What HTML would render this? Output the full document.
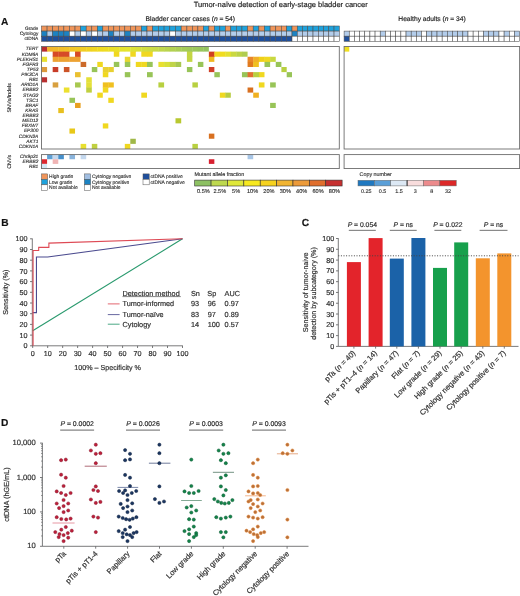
<!DOCTYPE html>
<html><head><meta charset="utf-8"><title>Tumor-naïve detection of early-stage bladder cancer</title>
<style>html,body{margin:0;padding:0;background:#fff;} svg{display:block;filter:blur(0.3px);} text{font-family:'Liberation Sans', Arial, sans-serif;text-rendering:geometricPrecision;stroke:#2a2a2a;stroke-width:0.18px;} text.sm{stroke-width:0.13px;}</style>
</head><body>
<svg width="520" height="596" viewBox="0 0 520 596">
<rect x="0" y="0" width="520" height="596" fill="#fff"/>
<text x="193.70" y="6.60" font-size="7.5" fill="#222">Tumor-naïve detection of early-stage bladder cancer</text>
<text x="1.00" y="24.90" font-size="10.2" font-weight="bold" fill="#111">A</text>
<text x="145.60" y="20.90" font-size="6.7" fill="#222">Bladder cancer cases (<tspan font-style="italic">n</tspan> = 54)</text>
<text x="398.30" y="20.90" font-size="6.7" fill="#222">Healthy adults (<tspan font-style="italic">n</tspan> = 34)</text>
<rect x="41.50" y="26.00" width="5.59" height="5.10" fill="#f0955a" stroke="#4d4d4d" stroke-width="0.55"/>
<rect x="41.50" y="31.10" width="5.59" height="5.10" fill="#1c82c2" stroke="#4d4d4d" stroke-width="0.55"/>
<rect x="41.50" y="36.20" width="5.59" height="5.10" fill="#1f4f9c" stroke="#4d4d4d" stroke-width="0.55"/>
<rect x="47.09" y="26.00" width="5.59" height="5.10" fill="#f0955a" stroke="#4d4d4d" stroke-width="0.55"/>
<rect x="47.09" y="31.10" width="5.59" height="5.10" fill="#b3cdeb" stroke="#4d4d4d" stroke-width="0.55"/>
<rect x="47.09" y="36.20" width="5.59" height="5.10" fill="#1f4f9c" stroke="#4d4d4d" stroke-width="0.55"/>
<rect x="52.68" y="26.00" width="5.59" height="5.10" fill="#f0955a" stroke="#4d4d4d" stroke-width="0.55"/>
<rect x="52.68" y="31.10" width="5.59" height="5.10" fill="#1c82c2" stroke="#4d4d4d" stroke-width="0.55"/>
<rect x="52.68" y="36.20" width="5.59" height="5.10" fill="#1f4f9c" stroke="#4d4d4d" stroke-width="0.55"/>
<rect x="58.27" y="26.00" width="5.59" height="5.10" fill="#f0955a" stroke="#4d4d4d" stroke-width="0.55"/>
<rect x="58.27" y="31.10" width="5.59" height="5.10" fill="#1c82c2" stroke="#4d4d4d" stroke-width="0.55"/>
<rect x="58.27" y="36.20" width="5.59" height="5.10" fill="#1f4f9c" stroke="#4d4d4d" stroke-width="0.55"/>
<rect x="63.86" y="26.00" width="5.59" height="5.10" fill="#f0955a" stroke="#4d4d4d" stroke-width="0.55"/>
<rect x="63.86" y="31.10" width="5.59" height="5.10" fill="#1c82c2" stroke="#4d4d4d" stroke-width="0.55"/>
<rect x="63.86" y="36.20" width="5.59" height="5.10" fill="#1f4f9c" stroke="#4d4d4d" stroke-width="0.55"/>
<rect x="69.44" y="26.00" width="5.59" height="5.10" fill="#f0955a" stroke="#4d4d4d" stroke-width="0.55"/>
<rect x="69.44" y="31.10" width="5.59" height="5.10" fill="#ffffff" stroke="#4d4d4d" stroke-width="0.55"/>
<rect x="69.44" y="36.20" width="5.59" height="5.10" fill="#1f4f9c" stroke="#4d4d4d" stroke-width="0.55"/>
<rect x="75.03" y="26.00" width="5.59" height="5.10" fill="#f0955a" stroke="#4d4d4d" stroke-width="0.55"/>
<rect x="75.03" y="31.10" width="5.59" height="5.10" fill="#b3cdeb" stroke="#4d4d4d" stroke-width="0.55"/>
<rect x="75.03" y="36.20" width="5.59" height="5.10" fill="#1f4f9c" stroke="#4d4d4d" stroke-width="0.55"/>
<rect x="80.62" y="26.00" width="5.59" height="5.10" fill="#1fa2dc" stroke="#4d4d4d" stroke-width="0.55"/>
<rect x="80.62" y="31.10" width="5.59" height="5.10" fill="#ffffff" stroke="#4d4d4d" stroke-width="0.55"/>
<rect x="80.62" y="36.20" width="5.59" height="5.10" fill="#1f4f9c" stroke="#4d4d4d" stroke-width="0.55"/>
<rect x="86.21" y="26.00" width="5.59" height="5.10" fill="#f0955a" stroke="#4d4d4d" stroke-width="0.55"/>
<rect x="86.21" y="31.10" width="5.59" height="5.10" fill="#b3cdeb" stroke="#4d4d4d" stroke-width="0.55"/>
<rect x="86.21" y="36.20" width="5.59" height="5.10" fill="#1f4f9c" stroke="#4d4d4d" stroke-width="0.55"/>
<rect x="91.80" y="26.00" width="5.50" height="5.10" fill="#f0955a" stroke="#4d4d4d" stroke-width="0.55"/>
<rect x="91.80" y="31.10" width="5.50" height="5.10" fill="#ffffff" stroke="#4d4d4d" stroke-width="0.55"/>
<rect x="91.80" y="36.20" width="5.50" height="5.10" fill="#1f4f9c" stroke="#4d4d4d" stroke-width="0.55"/>
<rect x="97.30" y="26.00" width="5.50" height="5.10" fill="#1fa2dc" stroke="#4d4d4d" stroke-width="0.55"/>
<rect x="97.30" y="31.10" width="5.50" height="5.10" fill="#b3cdeb" stroke="#4d4d4d" stroke-width="0.55"/>
<rect x="97.30" y="36.20" width="5.50" height="5.10" fill="#1f4f9c" stroke="#4d4d4d" stroke-width="0.55"/>
<rect x="102.80" y="26.00" width="5.50" height="5.10" fill="#f0955a" stroke="#4d4d4d" stroke-width="0.55"/>
<rect x="102.80" y="31.10" width="5.50" height="5.10" fill="#b3cdeb" stroke="#4d4d4d" stroke-width="0.55"/>
<rect x="102.80" y="36.20" width="5.50" height="5.10" fill="#1f4f9c" stroke="#4d4d4d" stroke-width="0.55"/>
<rect x="108.30" y="26.00" width="5.50" height="5.10" fill="#f0955a" stroke="#4d4d4d" stroke-width="0.55"/>
<rect x="108.30" y="31.10" width="5.50" height="5.10" fill="#1c82c2" stroke="#4d4d4d" stroke-width="0.55"/>
<rect x="108.30" y="36.20" width="5.50" height="5.10" fill="#1f4f9c" stroke="#4d4d4d" stroke-width="0.55"/>
<rect x="113.80" y="26.00" width="5.50" height="5.10" fill="#f0955a" stroke="#4d4d4d" stroke-width="0.55"/>
<rect x="113.80" y="31.10" width="5.50" height="5.10" fill="#b3cdeb" stroke="#4d4d4d" stroke-width="0.55"/>
<rect x="113.80" y="36.20" width="5.50" height="5.10" fill="#1f4f9c" stroke="#4d4d4d" stroke-width="0.55"/>
<rect x="119.30" y="26.00" width="5.50" height="5.10" fill="#f0955a" stroke="#4d4d4d" stroke-width="0.55"/>
<rect x="119.30" y="31.10" width="5.50" height="5.10" fill="#b3cdeb" stroke="#4d4d4d" stroke-width="0.55"/>
<rect x="119.30" y="36.20" width="5.50" height="5.10" fill="#1f4f9c" stroke="#4d4d4d" stroke-width="0.55"/>
<rect x="124.80" y="26.00" width="5.50" height="5.10" fill="#f0955a" stroke="#4d4d4d" stroke-width="0.55"/>
<rect x="124.80" y="31.10" width="5.50" height="5.10" fill="#1c82c2" stroke="#4d4d4d" stroke-width="0.55"/>
<rect x="124.80" y="36.20" width="5.50" height="5.10" fill="#1f4f9c" stroke="#4d4d4d" stroke-width="0.55"/>
<rect x="130.30" y="26.00" width="5.50" height="5.10" fill="#f0955a" stroke="#4d4d4d" stroke-width="0.55"/>
<rect x="130.30" y="31.10" width="5.50" height="5.10" fill="#b3cdeb" stroke="#4d4d4d" stroke-width="0.55"/>
<rect x="130.30" y="36.20" width="5.50" height="5.10" fill="#1f4f9c" stroke="#4d4d4d" stroke-width="0.55"/>
<rect x="135.80" y="26.00" width="5.50" height="5.10" fill="#f0955a" stroke="#4d4d4d" stroke-width="0.55"/>
<rect x="135.80" y="31.10" width="5.50" height="5.10" fill="#b3cdeb" stroke="#4d4d4d" stroke-width="0.55"/>
<rect x="135.80" y="36.20" width="5.50" height="5.10" fill="#1f4f9c" stroke="#4d4d4d" stroke-width="0.55"/>
<rect x="141.30" y="26.00" width="5.70" height="5.10" fill="#1fa2dc" stroke="#4d4d4d" stroke-width="0.55"/>
<rect x="141.30" y="31.10" width="5.70" height="5.10" fill="#b3cdeb" stroke="#4d4d4d" stroke-width="0.55"/>
<rect x="141.30" y="36.20" width="5.70" height="5.10" fill="#1f4f9c" stroke="#4d4d4d" stroke-width="0.55"/>
<rect x="147.00" y="26.00" width="5.70" height="5.10" fill="#f0955a" stroke="#4d4d4d" stroke-width="0.55"/>
<rect x="147.00" y="31.10" width="5.70" height="5.10" fill="#b3cdeb" stroke="#4d4d4d" stroke-width="0.55"/>
<rect x="147.00" y="36.20" width="5.70" height="5.10" fill="#1f4f9c" stroke="#4d4d4d" stroke-width="0.55"/>
<rect x="152.70" y="26.00" width="5.70" height="5.10" fill="#1fa2dc" stroke="#4d4d4d" stroke-width="0.55"/>
<rect x="152.70" y="31.10" width="5.70" height="5.10" fill="#b3cdeb" stroke="#4d4d4d" stroke-width="0.55"/>
<rect x="152.70" y="36.20" width="5.70" height="5.10" fill="#1f4f9c" stroke="#4d4d4d" stroke-width="0.55"/>
<rect x="158.40" y="26.00" width="5.70" height="5.10" fill="#1fa2dc" stroke="#4d4d4d" stroke-width="0.55"/>
<rect x="158.40" y="31.10" width="5.70" height="5.10" fill="#b3cdeb" stroke="#4d4d4d" stroke-width="0.55"/>
<rect x="158.40" y="36.20" width="5.70" height="5.10" fill="#1f4f9c" stroke="#4d4d4d" stroke-width="0.55"/>
<rect x="164.10" y="26.00" width="5.70" height="5.10" fill="#1fa2dc" stroke="#4d4d4d" stroke-width="0.55"/>
<rect x="164.10" y="31.10" width="5.70" height="5.10" fill="#b3cdeb" stroke="#4d4d4d" stroke-width="0.55"/>
<rect x="164.10" y="36.20" width="5.70" height="5.10" fill="#1f4f9c" stroke="#4d4d4d" stroke-width="0.55"/>
<rect x="169.80" y="26.00" width="5.70" height="5.10" fill="#1fa2dc" stroke="#4d4d4d" stroke-width="0.55"/>
<rect x="169.80" y="31.10" width="5.70" height="5.10" fill="#ffffff" stroke="#4d4d4d" stroke-width="0.55"/>
<rect x="169.80" y="36.20" width="5.70" height="5.10" fill="#1f4f9c" stroke="#4d4d4d" stroke-width="0.55"/>
<rect x="175.50" y="26.00" width="5.70" height="5.10" fill="#1fa2dc" stroke="#4d4d4d" stroke-width="0.55"/>
<rect x="175.50" y="31.10" width="5.70" height="5.10" fill="#b3cdeb" stroke="#4d4d4d" stroke-width="0.55"/>
<rect x="175.50" y="36.20" width="5.70" height="5.10" fill="#1f4f9c" stroke="#4d4d4d" stroke-width="0.55"/>
<rect x="181.20" y="26.00" width="5.70" height="5.10" fill="#f0955a" stroke="#4d4d4d" stroke-width="0.55"/>
<rect x="181.20" y="31.10" width="5.70" height="5.10" fill="#b3cdeb" stroke="#4d4d4d" stroke-width="0.55"/>
<rect x="181.20" y="36.20" width="5.70" height="5.10" fill="#1f4f9c" stroke="#4d4d4d" stroke-width="0.55"/>
<rect x="186.90" y="26.00" width="5.49" height="5.10" fill="#f0955a" stroke="#4d4d4d" stroke-width="0.55"/>
<rect x="186.90" y="31.10" width="5.49" height="5.10" fill="#b3cdeb" stroke="#4d4d4d" stroke-width="0.55"/>
<rect x="186.90" y="36.20" width="5.49" height="5.10" fill="#1f4f9c" stroke="#4d4d4d" stroke-width="0.55"/>
<rect x="192.39" y="26.00" width="5.49" height="5.10" fill="#f0955a" stroke="#4d4d4d" stroke-width="0.55"/>
<rect x="192.39" y="31.10" width="5.49" height="5.10" fill="#b3cdeb" stroke="#4d4d4d" stroke-width="0.55"/>
<rect x="192.39" y="36.20" width="5.49" height="5.10" fill="#1f4f9c" stroke="#4d4d4d" stroke-width="0.55"/>
<rect x="197.88" y="26.00" width="5.49" height="5.10" fill="#f0955a" stroke="#4d4d4d" stroke-width="0.55"/>
<rect x="197.88" y="31.10" width="5.49" height="5.10" fill="#b3cdeb" stroke="#4d4d4d" stroke-width="0.55"/>
<rect x="197.88" y="36.20" width="5.49" height="5.10" fill="#1f4f9c" stroke="#4d4d4d" stroke-width="0.55"/>
<rect x="203.37" y="26.00" width="5.49" height="5.10" fill="#1fa2dc" stroke="#4d4d4d" stroke-width="0.55"/>
<rect x="203.37" y="31.10" width="5.49" height="5.10" fill="#b3cdeb" stroke="#4d4d4d" stroke-width="0.55"/>
<rect x="203.37" y="36.20" width="5.49" height="5.10" fill="#1f4f9c" stroke="#4d4d4d" stroke-width="0.55"/>
<rect x="208.86" y="26.00" width="5.49" height="5.10" fill="#f0955a" stroke="#4d4d4d" stroke-width="0.55"/>
<rect x="208.86" y="31.10" width="5.49" height="5.10" fill="#b3cdeb" stroke="#4d4d4d" stroke-width="0.55"/>
<rect x="208.86" y="36.20" width="5.49" height="5.10" fill="#1f4f9c" stroke="#4d4d4d" stroke-width="0.55"/>
<rect x="214.34" y="26.00" width="5.49" height="5.10" fill="#1fa2dc" stroke="#4d4d4d" stroke-width="0.55"/>
<rect x="214.34" y="31.10" width="5.49" height="5.10" fill="#b3cdeb" stroke="#4d4d4d" stroke-width="0.55"/>
<rect x="214.34" y="36.20" width="5.49" height="5.10" fill="#1f4f9c" stroke="#4d4d4d" stroke-width="0.55"/>
<rect x="219.83" y="26.00" width="5.49" height="5.10" fill="#1fa2dc" stroke="#4d4d4d" stroke-width="0.55"/>
<rect x="219.83" y="31.10" width="5.49" height="5.10" fill="#b3cdeb" stroke="#4d4d4d" stroke-width="0.55"/>
<rect x="219.83" y="36.20" width="5.49" height="5.10" fill="#1f4f9c" stroke="#4d4d4d" stroke-width="0.55"/>
<rect x="225.32" y="26.00" width="5.49" height="5.10" fill="#f0955a" stroke="#4d4d4d" stroke-width="0.55"/>
<rect x="225.32" y="31.10" width="5.49" height="5.10" fill="#b3cdeb" stroke="#4d4d4d" stroke-width="0.55"/>
<rect x="225.32" y="36.20" width="5.49" height="5.10" fill="#1f4f9c" stroke="#4d4d4d" stroke-width="0.55"/>
<rect x="230.81" y="26.00" width="5.49" height="5.10" fill="#1fa2dc" stroke="#4d4d4d" stroke-width="0.55"/>
<rect x="230.81" y="31.10" width="5.49" height="5.10" fill="#b3cdeb" stroke="#4d4d4d" stroke-width="0.55"/>
<rect x="230.81" y="36.20" width="5.49" height="5.10" fill="#1f4f9c" stroke="#4d4d4d" stroke-width="0.55"/>
<rect x="236.30" y="26.00" width="5.64" height="5.10" fill="#1fa2dc" stroke="#4d4d4d" stroke-width="0.55"/>
<rect x="236.30" y="31.10" width="5.64" height="5.10" fill="#b3cdeb" stroke="#4d4d4d" stroke-width="0.55"/>
<rect x="236.30" y="36.20" width="5.64" height="5.10" fill="#1f4f9c" stroke="#4d4d4d" stroke-width="0.55"/>
<rect x="241.94" y="26.00" width="5.64" height="5.10" fill="#1fa2dc" stroke="#4d4d4d" stroke-width="0.55"/>
<rect x="241.94" y="31.10" width="5.64" height="5.10" fill="#b3cdeb" stroke="#4d4d4d" stroke-width="0.55"/>
<rect x="241.94" y="36.20" width="5.64" height="5.10" fill="#1f4f9c" stroke="#4d4d4d" stroke-width="0.55"/>
<rect x="247.57" y="26.00" width="5.64" height="5.10" fill="#f0955a" stroke="#4d4d4d" stroke-width="0.55"/>
<rect x="247.57" y="31.10" width="5.64" height="5.10" fill="#b3cdeb" stroke="#4d4d4d" stroke-width="0.55"/>
<rect x="247.57" y="36.20" width="5.64" height="5.10" fill="#1f4f9c" stroke="#4d4d4d" stroke-width="0.55"/>
<rect x="253.21" y="26.00" width="5.64" height="5.10" fill="#1fa2dc" stroke="#4d4d4d" stroke-width="0.55"/>
<rect x="253.21" y="31.10" width="5.64" height="5.10" fill="#b3cdeb" stroke="#4d4d4d" stroke-width="0.55"/>
<rect x="253.21" y="36.20" width="5.64" height="5.10" fill="#1f4f9c" stroke="#4d4d4d" stroke-width="0.55"/>
<rect x="258.85" y="26.00" width="5.64" height="5.10" fill="#f0955a" stroke="#4d4d4d" stroke-width="0.55"/>
<rect x="258.85" y="31.10" width="5.64" height="5.10" fill="#b3cdeb" stroke="#4d4d4d" stroke-width="0.55"/>
<rect x="258.85" y="36.20" width="5.64" height="5.10" fill="#1f4f9c" stroke="#4d4d4d" stroke-width="0.55"/>
<rect x="264.49" y="26.00" width="5.64" height="5.10" fill="#1fa2dc" stroke="#4d4d4d" stroke-width="0.55"/>
<rect x="264.49" y="31.10" width="5.64" height="5.10" fill="#b3cdeb" stroke="#4d4d4d" stroke-width="0.55"/>
<rect x="264.49" y="36.20" width="5.64" height="5.10" fill="#1f4f9c" stroke="#4d4d4d" stroke-width="0.55"/>
<rect x="270.12" y="26.00" width="5.64" height="5.10" fill="#f0955a" stroke="#4d4d4d" stroke-width="0.55"/>
<rect x="270.12" y="31.10" width="5.64" height="5.10" fill="#b3cdeb" stroke="#4d4d4d" stroke-width="0.55"/>
<rect x="270.12" y="36.20" width="5.64" height="5.10" fill="#1f4f9c" stroke="#4d4d4d" stroke-width="0.55"/>
<rect x="275.76" y="26.00" width="5.64" height="5.10" fill="#f0955a" stroke="#4d4d4d" stroke-width="0.55"/>
<rect x="275.76" y="31.10" width="5.64" height="5.10" fill="#b3cdeb" stroke="#4d4d4d" stroke-width="0.55"/>
<rect x="275.76" y="36.20" width="5.64" height="5.10" fill="#1f4f9c" stroke="#4d4d4d" stroke-width="0.55"/>
<rect x="281.40" y="26.00" width="5.30" height="5.10" fill="#f0955a" stroke="#4d4d4d" stroke-width="0.55"/>
<rect x="281.40" y="31.10" width="5.30" height="5.10" fill="#b3cdeb" stroke="#4d4d4d" stroke-width="0.55"/>
<rect x="281.40" y="36.20" width="5.30" height="5.10" fill="#1f4f9c" stroke="#4d4d4d" stroke-width="0.55"/>
<rect x="286.70" y="26.00" width="5.30" height="5.10" fill="#1fa2dc" stroke="#4d4d4d" stroke-width="0.55"/>
<rect x="286.70" y="31.10" width="5.30" height="5.10" fill="#b3cdeb" stroke="#4d4d4d" stroke-width="0.55"/>
<rect x="286.70" y="36.20" width="5.30" height="5.10" fill="#1f4f9c" stroke="#4d4d4d" stroke-width="0.55"/>
<rect x="292.00" y="26.00" width="5.26" height="5.10" fill="#f0955a" stroke="#4d4d4d" stroke-width="0.55"/>
<rect x="292.00" y="31.10" width="5.26" height="5.10" fill="#1c82c2" stroke="#4d4d4d" stroke-width="0.55"/>
<rect x="292.00" y="36.20" width="5.26" height="5.10" fill="#ffffff" stroke="#4d4d4d" stroke-width="0.55"/>
<rect x="297.26" y="26.00" width="5.26" height="5.10" fill="#1fa2dc" stroke="#4d4d4d" stroke-width="0.55"/>
<rect x="297.26" y="31.10" width="5.26" height="5.10" fill="#b3cdeb" stroke="#4d4d4d" stroke-width="0.55"/>
<rect x="297.26" y="36.20" width="5.26" height="5.10" fill="#ffffff" stroke="#4d4d4d" stroke-width="0.55"/>
<rect x="302.51" y="26.00" width="5.26" height="5.10" fill="#1fa2dc" stroke="#4d4d4d" stroke-width="0.55"/>
<rect x="302.51" y="31.10" width="5.26" height="5.10" fill="#b3cdeb" stroke="#4d4d4d" stroke-width="0.55"/>
<rect x="302.51" y="36.20" width="5.26" height="5.10" fill="#ffffff" stroke="#4d4d4d" stroke-width="0.55"/>
<rect x="307.77" y="26.00" width="5.26" height="5.10" fill="#1fa2dc" stroke="#4d4d4d" stroke-width="0.55"/>
<rect x="307.77" y="31.10" width="5.26" height="5.10" fill="#b3cdeb" stroke="#4d4d4d" stroke-width="0.55"/>
<rect x="307.77" y="36.20" width="5.26" height="5.10" fill="#ffffff" stroke="#4d4d4d" stroke-width="0.55"/>
<rect x="313.02" y="26.00" width="5.26" height="5.10" fill="#1fa2dc" stroke="#4d4d4d" stroke-width="0.55"/>
<rect x="313.02" y="31.10" width="5.26" height="5.10" fill="#b3cdeb" stroke="#4d4d4d" stroke-width="0.55"/>
<rect x="313.02" y="36.20" width="5.26" height="5.10" fill="#ffffff" stroke="#4d4d4d" stroke-width="0.55"/>
<rect x="318.28" y="26.00" width="5.26" height="5.10" fill="#1fa2dc" stroke="#4d4d4d" stroke-width="0.55"/>
<rect x="318.28" y="31.10" width="5.26" height="5.10" fill="#b3cdeb" stroke="#4d4d4d" stroke-width="0.55"/>
<rect x="318.28" y="36.20" width="5.26" height="5.10" fill="#ffffff" stroke="#4d4d4d" stroke-width="0.55"/>
<rect x="323.53" y="26.00" width="5.26" height="5.10" fill="#1fa2dc" stroke="#4d4d4d" stroke-width="0.55"/>
<rect x="323.53" y="31.10" width="5.26" height="5.10" fill="#b3cdeb" stroke="#4d4d4d" stroke-width="0.55"/>
<rect x="323.53" y="36.20" width="5.26" height="5.10" fill="#ffffff" stroke="#4d4d4d" stroke-width="0.55"/>
<rect x="328.79" y="26.00" width="5.26" height="5.10" fill="#1fa2dc" stroke="#4d4d4d" stroke-width="0.55"/>
<rect x="328.79" y="31.10" width="5.26" height="5.10" fill="#b3cdeb" stroke="#4d4d4d" stroke-width="0.55"/>
<rect x="328.79" y="36.20" width="5.26" height="5.10" fill="#ffffff" stroke="#4d4d4d" stroke-width="0.55"/>
<rect x="334.04" y="26.00" width="5.26" height="5.10" fill="#1fa2dc" stroke="#4d4d4d" stroke-width="0.55"/>
<rect x="334.04" y="31.10" width="5.26" height="5.10" fill="#b3cdeb" stroke="#4d4d4d" stroke-width="0.55"/>
<rect x="334.04" y="36.20" width="5.26" height="5.10" fill="#ffffff" stroke="#4d4d4d" stroke-width="0.55"/>
<rect x="344.10" y="31.10" width="5.16" height="5.10" fill="#b3cdeb" stroke="#4d4d4d" stroke-width="0.55"/>
<rect x="344.10" y="36.20" width="5.16" height="5.10" fill="#1f4f9c" stroke="#4d4d4d" stroke-width="0.55"/>
<rect x="349.26" y="31.10" width="5.16" height="5.10" fill="#ffffff" stroke="#4d4d4d" stroke-width="0.55"/>
<rect x="349.26" y="36.20" width="5.16" height="5.10" fill="#ffffff" stroke="#4d4d4d" stroke-width="0.55"/>
<rect x="354.42" y="31.10" width="5.16" height="5.10" fill="#ffffff" stroke="#4d4d4d" stroke-width="0.55"/>
<rect x="354.42" y="36.20" width="5.16" height="5.10" fill="#ffffff" stroke="#4d4d4d" stroke-width="0.55"/>
<rect x="359.59" y="31.10" width="5.16" height="5.10" fill="#ffffff" stroke="#4d4d4d" stroke-width="0.55"/>
<rect x="359.59" y="36.20" width="5.16" height="5.10" fill="#ffffff" stroke="#4d4d4d" stroke-width="0.55"/>
<rect x="364.75" y="31.10" width="5.16" height="5.10" fill="#ffffff" stroke="#4d4d4d" stroke-width="0.55"/>
<rect x="364.75" y="36.20" width="5.16" height="5.10" fill="#ffffff" stroke="#4d4d4d" stroke-width="0.55"/>
<rect x="369.91" y="31.10" width="5.16" height="5.10" fill="#ffffff" stroke="#4d4d4d" stroke-width="0.55"/>
<rect x="369.91" y="36.20" width="5.16" height="5.10" fill="#ffffff" stroke="#4d4d4d" stroke-width="0.55"/>
<rect x="375.07" y="31.10" width="5.16" height="5.10" fill="#ffffff" stroke="#4d4d4d" stroke-width="0.55"/>
<rect x="375.07" y="36.20" width="5.16" height="5.10" fill="#ffffff" stroke="#4d4d4d" stroke-width="0.55"/>
<rect x="380.23" y="31.10" width="5.16" height="5.10" fill="#b3cdeb" stroke="#4d4d4d" stroke-width="0.55"/>
<rect x="380.23" y="36.20" width="5.16" height="5.10" fill="#ffffff" stroke="#4d4d4d" stroke-width="0.55"/>
<rect x="385.40" y="31.10" width="5.16" height="5.10" fill="#ffffff" stroke="#4d4d4d" stroke-width="0.55"/>
<rect x="385.40" y="36.20" width="5.16" height="5.10" fill="#ffffff" stroke="#4d4d4d" stroke-width="0.55"/>
<rect x="390.56" y="31.10" width="5.16" height="5.10" fill="#ffffff" stroke="#4d4d4d" stroke-width="0.55"/>
<rect x="390.56" y="36.20" width="5.16" height="5.10" fill="#ffffff" stroke="#4d4d4d" stroke-width="0.55"/>
<rect x="395.72" y="31.10" width="5.16" height="5.10" fill="#ffffff" stroke="#4d4d4d" stroke-width="0.55"/>
<rect x="395.72" y="36.20" width="5.16" height="5.10" fill="#ffffff" stroke="#4d4d4d" stroke-width="0.55"/>
<rect x="400.88" y="31.10" width="5.16" height="5.10" fill="#ffffff" stroke="#4d4d4d" stroke-width="0.55"/>
<rect x="400.88" y="36.20" width="5.16" height="5.10" fill="#ffffff" stroke="#4d4d4d" stroke-width="0.55"/>
<rect x="406.04" y="31.10" width="5.16" height="5.10" fill="#b3cdeb" stroke="#4d4d4d" stroke-width="0.55"/>
<rect x="406.04" y="36.20" width="5.16" height="5.10" fill="#ffffff" stroke="#4d4d4d" stroke-width="0.55"/>
<rect x="411.21" y="31.10" width="5.16" height="5.10" fill="#b3cdeb" stroke="#4d4d4d" stroke-width="0.55"/>
<rect x="411.21" y="36.20" width="5.16" height="5.10" fill="#ffffff" stroke="#4d4d4d" stroke-width="0.55"/>
<rect x="416.37" y="31.10" width="5.16" height="5.10" fill="#b3cdeb" stroke="#4d4d4d" stroke-width="0.55"/>
<rect x="416.37" y="36.20" width="5.16" height="5.10" fill="#ffffff" stroke="#4d4d4d" stroke-width="0.55"/>
<rect x="421.53" y="31.10" width="5.16" height="5.10" fill="#ffffff" stroke="#4d4d4d" stroke-width="0.55"/>
<rect x="421.53" y="36.20" width="5.16" height="5.10" fill="#ffffff" stroke="#4d4d4d" stroke-width="0.55"/>
<rect x="426.69" y="31.10" width="5.16" height="5.10" fill="#b3cdeb" stroke="#4d4d4d" stroke-width="0.55"/>
<rect x="426.69" y="36.20" width="5.16" height="5.10" fill="#ffffff" stroke="#4d4d4d" stroke-width="0.55"/>
<rect x="431.85" y="31.10" width="5.16" height="5.10" fill="#b3cdeb" stroke="#4d4d4d" stroke-width="0.55"/>
<rect x="431.85" y="36.20" width="5.16" height="5.10" fill="#ffffff" stroke="#4d4d4d" stroke-width="0.55"/>
<rect x="437.02" y="31.10" width="5.16" height="5.10" fill="#b3cdeb" stroke="#4d4d4d" stroke-width="0.55"/>
<rect x="437.02" y="36.20" width="5.16" height="5.10" fill="#ffffff" stroke="#4d4d4d" stroke-width="0.55"/>
<rect x="442.18" y="31.10" width="5.16" height="5.10" fill="#b3cdeb" stroke="#4d4d4d" stroke-width="0.55"/>
<rect x="442.18" y="36.20" width="5.16" height="5.10" fill="#ffffff" stroke="#4d4d4d" stroke-width="0.55"/>
<rect x="447.34" y="31.10" width="5.16" height="5.10" fill="#b3cdeb" stroke="#4d4d4d" stroke-width="0.55"/>
<rect x="447.34" y="36.20" width="5.16" height="5.10" fill="#ffffff" stroke="#4d4d4d" stroke-width="0.55"/>
<rect x="452.50" y="31.10" width="5.16" height="5.10" fill="#b3cdeb" stroke="#4d4d4d" stroke-width="0.55"/>
<rect x="452.50" y="36.20" width="5.16" height="5.10" fill="#ffffff" stroke="#4d4d4d" stroke-width="0.55"/>
<rect x="457.66" y="31.10" width="5.16" height="5.10" fill="#b3cdeb" stroke="#4d4d4d" stroke-width="0.55"/>
<rect x="457.66" y="36.20" width="5.16" height="5.10" fill="#ffffff" stroke="#4d4d4d" stroke-width="0.55"/>
<rect x="462.83" y="31.10" width="5.16" height="5.10" fill="#b3cdeb" stroke="#4d4d4d" stroke-width="0.55"/>
<rect x="462.83" y="36.20" width="5.16" height="5.10" fill="#ffffff" stroke="#4d4d4d" stroke-width="0.55"/>
<rect x="467.99" y="31.10" width="5.16" height="5.10" fill="#ffffff" stroke="#4d4d4d" stroke-width="0.55"/>
<rect x="467.99" y="36.20" width="5.16" height="5.10" fill="#ffffff" stroke="#4d4d4d" stroke-width="0.55"/>
<rect x="473.15" y="31.10" width="5.16" height="5.10" fill="#ffffff" stroke="#4d4d4d" stroke-width="0.55"/>
<rect x="473.15" y="36.20" width="5.16" height="5.10" fill="#ffffff" stroke="#4d4d4d" stroke-width="0.55"/>
<rect x="478.31" y="31.10" width="5.16" height="5.10" fill="#ffffff" stroke="#4d4d4d" stroke-width="0.55"/>
<rect x="478.31" y="36.20" width="5.16" height="5.10" fill="#ffffff" stroke="#4d4d4d" stroke-width="0.55"/>
<rect x="483.47" y="31.10" width="5.16" height="5.10" fill="#b3cdeb" stroke="#4d4d4d" stroke-width="0.55"/>
<rect x="483.47" y="36.20" width="5.16" height="5.10" fill="#ffffff" stroke="#4d4d4d" stroke-width="0.55"/>
<rect x="488.64" y="31.10" width="5.16" height="5.10" fill="#b3cdeb" stroke="#4d4d4d" stroke-width="0.55"/>
<rect x="488.64" y="36.20" width="5.16" height="5.10" fill="#ffffff" stroke="#4d4d4d" stroke-width="0.55"/>
<rect x="493.80" y="31.10" width="5.16" height="5.10" fill="#b3cdeb" stroke="#4d4d4d" stroke-width="0.55"/>
<rect x="493.80" y="36.20" width="5.16" height="5.10" fill="#ffffff" stroke="#4d4d4d" stroke-width="0.55"/>
<rect x="498.96" y="31.10" width="5.16" height="5.10" fill="#ffffff" stroke="#4d4d4d" stroke-width="0.55"/>
<rect x="498.96" y="36.20" width="5.16" height="5.10" fill="#ffffff" stroke="#4d4d4d" stroke-width="0.55"/>
<rect x="504.12" y="31.10" width="5.16" height="5.10" fill="#b3cdeb" stroke="#4d4d4d" stroke-width="0.55"/>
<rect x="504.12" y="36.20" width="5.16" height="5.10" fill="#ffffff" stroke="#4d4d4d" stroke-width="0.55"/>
<rect x="509.28" y="31.10" width="5.16" height="5.10" fill="#ffffff" stroke="#4d4d4d" stroke-width="0.55"/>
<rect x="509.28" y="36.20" width="5.16" height="5.10" fill="#ffffff" stroke="#4d4d4d" stroke-width="0.55"/>
<rect x="514.45" y="31.10" width="5.16" height="5.10" fill="#b3cdeb" stroke="#4d4d4d" stroke-width="0.55"/>
<rect x="514.45" y="36.20" width="5.16" height="5.10" fill="#ffffff" stroke="#4d4d4d" stroke-width="0.55"/>
<text x="38.30" y="30.00" font-size="4.8" text-anchor="end" fill="#333" class="sm">Grade</text>
<text x="38.30" y="35.10" font-size="4.8" text-anchor="end" fill="#333" class="sm">Cytology</text>
<text x="38.30" y="40.20" font-size="4.8" text-anchor="end" fill="#333" class="sm">ctDNA</text>
<rect x="41.50" y="46.50" width="5.94" height="5.12" fill="#b82e2e"/>
<rect x="47.09" y="46.50" width="5.94" height="5.12" fill="#f3b52c"/>
<rect x="52.68" y="46.50" width="5.94" height="5.47" fill="#f3b92a"/>
<rect x="58.27" y="46.50" width="5.94" height="5.47" fill="#f3bd29"/>
<rect x="63.86" y="46.50" width="5.94" height="5.47" fill="#f3c128"/>
<rect x="69.44" y="46.50" width="5.94" height="5.12" fill="#f3c526"/>
<rect x="75.03" y="46.50" width="5.94" height="5.47" fill="#f2c925"/>
<rect x="80.62" y="46.50" width="5.94" height="5.12" fill="#f2cd24"/>
<rect x="86.21" y="46.50" width="5.94" height="5.12" fill="#f1d222"/>
<rect x="91.80" y="46.50" width="5.85" height="5.12" fill="#f1d621"/>
<rect x="97.30" y="46.50" width="5.85" height="5.12" fill="#f0da20"/>
<rect x="102.80" y="46.50" width="5.85" height="5.12" fill="#eedc23"/>
<rect x="108.30" y="46.50" width="5.85" height="5.12" fill="#ebde26"/>
<rect x="113.80" y="46.50" width="5.85" height="5.47" fill="#e9e02a"/>
<rect x="119.30" y="46.50" width="5.85" height="5.12" fill="#e6e22d"/>
<rect x="124.80" y="46.50" width="5.85" height="5.12" fill="#e4e430"/>
<rect x="130.30" y="46.50" width="5.85" height="5.47" fill="#dee235"/>
<rect x="135.80" y="46.50" width="5.85" height="5.12" fill="#d9e03a"/>
<rect x="141.30" y="46.50" width="6.05" height="5.47" fill="#d3de3e"/>
<rect x="147.00" y="46.50" width="6.05" height="5.47" fill="#cedc43"/>
<rect x="152.70" y="46.50" width="6.05" height="5.12" fill="#c8da48"/>
<rect x="158.40" y="46.50" width="6.05" height="5.12" fill="#c1d74b"/>
<rect x="164.10" y="46.50" width="6.05" height="5.12" fill="#bad44e"/>
<rect x="169.80" y="46.50" width="6.05" height="5.12" fill="#b3d152"/>
<rect x="175.50" y="46.50" width="6.05" height="5.12" fill="#acce55"/>
<rect x="181.20" y="46.50" width="6.05" height="5.12" fill="#a5cb58"/>
<rect x="186.90" y="46.50" width="5.84" height="5.47" fill="#a1c95a"/>
<rect x="192.39" y="46.50" width="5.84" height="5.12" fill="#9dc85c"/>
<rect x="197.88" y="46.50" width="5.84" height="5.12" fill="#99c65d"/>
<rect x="203.37" y="46.50" width="5.49" height="5.12" fill="#95c45f"/>
<rect x="52.68" y="51.62" width="5.94" height="5.47" fill="#d64a28"/>
<rect x="58.27" y="51.62" width="5.94" height="5.47" fill="#d64a28"/>
<rect x="63.86" y="51.62" width="5.59" height="5.47" fill="#d64a28"/>
<rect x="75.03" y="51.62" width="5.59" height="5.47" fill="#d64a28"/>
<rect x="113.80" y="51.62" width="5.50" height="5.12" fill="#f0d820"/>
<rect x="130.30" y="51.62" width="5.50" height="5.12" fill="#f0d820"/>
<rect x="141.30" y="51.62" width="6.05" height="5.12" fill="#f0d820"/>
<rect x="147.00" y="51.62" width="5.70" height="5.12" fill="#f0d820"/>
<rect x="186.90" y="51.62" width="5.49" height="5.47" fill="#c4d644"/>
<rect x="208.86" y="51.62" width="5.84" height="5.47" fill="#d04020"/>
<rect x="214.34" y="51.62" width="5.84" height="5.12" fill="#f5d820"/>
<rect x="219.83" y="51.62" width="5.84" height="5.12" fill="#f0dc20"/>
<rect x="225.32" y="51.62" width="5.84" height="5.12" fill="#e4e030"/>
<rect x="230.81" y="51.62" width="5.84" height="5.12" fill="#cad840"/>
<rect x="236.30" y="51.62" width="5.99" height="5.12" fill="#bcd248"/>
<rect x="241.94" y="51.62" width="5.64" height="5.12" fill="#b0cc50"/>
<rect x="41.50" y="56.75" width="5.59" height="5.12" fill="#e8e030"/>
<rect x="52.68" y="56.75" width="5.94" height="5.12" fill="#eda232"/>
<rect x="58.27" y="56.75" width="5.94" height="5.12" fill="#eda232"/>
<rect x="63.86" y="56.75" width="5.94" height="5.12" fill="#eda232"/>
<rect x="69.44" y="56.75" width="5.94" height="5.12" fill="#eda232"/>
<rect x="75.03" y="56.75" width="5.59" height="5.12" fill="#eda232"/>
<rect x="124.80" y="56.75" width="5.50" height="5.47" fill="#e8d830"/>
<rect x="186.90" y="56.75" width="5.49" height="5.12" fill="#c4d644"/>
<rect x="208.86" y="56.75" width="5.49" height="5.12" fill="#f0b820"/>
<rect x="247.57" y="56.75" width="5.99" height="5.47" fill="#e8862a"/>
<rect x="253.21" y="56.75" width="5.99" height="5.47" fill="#f0b028"/>
<rect x="258.85" y="56.75" width="5.99" height="5.12" fill="#f0d018"/>
<rect x="264.49" y="56.75" width="5.99" height="5.47" fill="#f0d820"/>
<rect x="270.12" y="56.75" width="5.64" height="5.12" fill="#c8d840"/>
<rect x="80.62" y="61.88" width="5.59" height="5.12" fill="#cc6a2a"/>
<rect x="97.30" y="61.88" width="5.50" height="5.12" fill="#f0d820"/>
<rect x="135.80" y="61.88" width="5.85" height="5.12" fill="#f0d820"/>
<rect x="141.30" y="61.88" width="6.05" height="5.12" fill="#f0d820"/>
<rect x="113.80" y="61.88" width="5.50" height="5.12" fill="#98c458"/>
<rect x="124.80" y="61.88" width="5.50" height="5.12" fill="#98c458"/>
<rect x="147.00" y="61.88" width="5.70" height="5.12" fill="#98c458"/>
<rect x="197.88" y="61.88" width="5.49" height="5.12" fill="#98c458"/>
<rect x="264.49" y="61.88" width="5.64" height="5.12" fill="#98c458"/>
<rect x="275.76" y="61.88" width="5.64" height="5.12" fill="#98c458"/>
<rect x="158.40" y="61.88" width="6.05" height="5.12" fill="#e8e030"/>
<rect x="164.10" y="61.88" width="6.05" height="5.12" fill="#d8e038"/>
<rect x="169.80" y="61.88" width="6.05" height="5.12" fill="#c0d448"/>
<rect x="175.50" y="61.88" width="5.70" height="5.12" fill="#a8c850"/>
<rect x="247.57" y="61.88" width="5.99" height="5.12" fill="#e07a20"/>
<rect x="253.21" y="61.88" width="5.64" height="5.12" fill="#f0c020"/>
<rect x="41.50" y="67.00" width="5.59" height="5.12" fill="#dc9a3c"/>
<rect x="52.68" y="67.00" width="5.59" height="5.12" fill="#c83c28"/>
<rect x="63.86" y="67.00" width="5.59" height="5.12" fill="#cc5428"/>
<rect x="91.80" y="67.00" width="5.50" height="5.12" fill="#98c458"/>
<rect x="186.90" y="67.00" width="5.49" height="5.12" fill="#98c458"/>
<rect x="102.80" y="67.00" width="5.85" height="5.47" fill="#e8d030"/>
<rect x="108.30" y="67.00" width="5.50" height="5.12" fill="#e8d030"/>
<rect x="208.86" y="67.00" width="5.49" height="5.12" fill="#d04028"/>
<rect x="281.40" y="67.00" width="5.30" height="5.12" fill="#b8d040"/>
<rect x="75.03" y="72.12" width="5.59" height="5.12" fill="#eac030"/>
<rect x="102.80" y="72.12" width="5.50" height="5.12" fill="#f0d820"/>
<rect x="258.85" y="72.12" width="5.64" height="5.12" fill="#f0d820"/>
<rect x="124.80" y="72.12" width="5.50" height="5.12" fill="#98c458"/>
<rect x="147.00" y="72.12" width="5.70" height="5.12" fill="#98c458"/>
<rect x="214.34" y="72.12" width="5.49" height="5.12" fill="#98c458"/>
<rect x="241.94" y="72.12" width="5.99" height="5.12" fill="#98c458"/>
<rect x="286.70" y="72.12" width="5.30" height="5.12" fill="#98c458"/>
<rect x="247.57" y="72.12" width="5.99" height="5.12" fill="#e07030"/>
<rect x="253.21" y="72.12" width="5.99" height="5.12" fill="#b8d040"/>
<rect x="41.50" y="77.25" width="5.59" height="5.12" fill="#b83030"/>
<rect x="86.21" y="77.25" width="5.59" height="5.47" fill="#e4e038"/>
<rect x="52.68" y="82.38" width="5.59" height="5.12" fill="#d8a040"/>
<rect x="75.03" y="82.38" width="5.59" height="5.12" fill="#a8c850"/>
<rect x="86.21" y="82.38" width="5.59" height="5.47" fill="#e4e038"/>
<rect x="102.80" y="82.38" width="5.85" height="5.47" fill="#f0c020"/>
<rect x="108.30" y="82.38" width="5.50" height="5.12" fill="#f0c020"/>
<rect x="158.40" y="82.38" width="5.70" height="5.12" fill="#b8d040"/>
<rect x="192.39" y="82.38" width="5.49" height="5.12" fill="#b8d040"/>
<rect x="258.85" y="82.38" width="5.64" height="5.12" fill="#f0d820"/>
<rect x="270.12" y="82.38" width="5.64" height="5.12" fill="#98c458"/>
<rect x="63.86" y="87.50" width="5.59" height="5.12" fill="#ece030"/>
<rect x="86.21" y="87.50" width="5.59" height="5.12" fill="#c0d040"/>
<rect x="102.80" y="87.50" width="5.50" height="5.12" fill="#f0d820"/>
<rect x="247.57" y="87.50" width="5.64" height="5.12" fill="#d87020"/>
<rect x="97.30" y="92.62" width="5.50" height="5.12" fill="#f0d820"/>
<rect x="141.30" y="92.62" width="5.70" height="5.12" fill="#f0d820"/>
<rect x="219.83" y="92.62" width="5.84" height="5.12" fill="#f0d820"/>
<rect x="225.32" y="92.62" width="5.49" height="5.12" fill="#b8cc40"/>
<rect x="253.21" y="92.62" width="5.64" height="5.12" fill="#f0b020"/>
<rect x="69.44" y="97.75" width="5.59" height="5.12" fill="#98c458"/>
<rect x="108.30" y="97.75" width="5.50" height="5.12" fill="#f0d820"/>
<rect x="75.03" y="102.88" width="5.59" height="5.12" fill="#e8a020"/>
<rect x="270.12" y="102.88" width="5.64" height="5.12" fill="#98c458"/>
<rect x="58.27" y="108.00" width="5.59" height="5.12" fill="#e8c020"/>
<rect x="175.50" y="118.25" width="5.70" height="5.12" fill="#b8c830"/>
<rect x="102.80" y="123.38" width="5.50" height="5.12" fill="#f0d820"/>
<rect x="69.44" y="128.50" width="5.59" height="5.12" fill="#e8c818"/>
<rect x="208.86" y="133.62" width="5.49" height="5.12" fill="#d87020"/>
<rect x="130.30" y="138.75" width="5.50" height="5.12" fill="#a0b848"/>
<rect x="80.62" y="143.88" width="5.59" height="5.12" fill="#e8e030"/>
<rect x="91.80" y="143.88" width="5.50" height="5.12" fill="#c0d040"/>
<rect x="124.80" y="143.88" width="5.50" height="5.12" fill="#f0d820"/>
<rect x="192.39" y="143.88" width="5.49" height="5.12" fill="#b8d040"/>
<rect x="344.10" y="46.50" width="5.16" height="5.12" fill="#f0e020"/>
<rect x="41.50" y="46.50" width="297.80" height="102.50" fill="none" stroke="#6d6d6d" stroke-width="0.9"/>
<rect x="344.10" y="46.50" width="175.51" height="102.50" fill="none" stroke="#6d6d6d" stroke-width="0.9"/>
<text x="38.30" y="50.40" font-size="4.8" text-anchor="end" font-style="italic" fill="#333" class="sm">TERT</text>
<text x="38.30" y="55.52" font-size="4.8" text-anchor="end" font-style="italic" fill="#333" class="sm">KDM6A</text>
<text x="38.30" y="60.65" font-size="4.8" text-anchor="end" font-style="italic" fill="#333" class="sm">PLEKHS1</text>
<text x="38.30" y="65.78" font-size="4.8" text-anchor="end" font-style="italic" fill="#333" class="sm">FGFR3</text>
<text x="38.30" y="70.90" font-size="4.8" text-anchor="end" font-style="italic" fill="#333" class="sm">TP53</text>
<text x="38.30" y="76.03" font-size="4.8" text-anchor="end" font-style="italic" fill="#333" class="sm">PIK3CA</text>
<text x="38.30" y="81.15" font-size="4.8" text-anchor="end" font-style="italic" fill="#333" class="sm">RB1</text>
<text x="38.30" y="86.28" font-size="4.8" text-anchor="end" font-style="italic" fill="#333" class="sm">ARID1A</text>
<text x="38.30" y="91.40" font-size="4.8" text-anchor="end" font-style="italic" fill="#333" class="sm">ERBB2</text>
<text x="38.30" y="96.53" font-size="4.8" text-anchor="end" font-style="italic" fill="#333" class="sm">STAG2</text>
<text x="38.30" y="101.65" font-size="4.8" text-anchor="end" font-style="italic" fill="#333" class="sm">TSC1</text>
<text x="38.30" y="106.78" font-size="4.8" text-anchor="end" font-style="italic" fill="#333" class="sm">BRAF</text>
<text x="38.30" y="111.90" font-size="4.8" text-anchor="end" font-style="italic" fill="#333" class="sm">KRAS</text>
<text x="38.30" y="117.03" font-size="4.8" text-anchor="end" font-style="italic" fill="#333" class="sm">ERBB3</text>
<text x="38.30" y="122.15" font-size="4.8" text-anchor="end" font-style="italic" fill="#333" class="sm">MED12</text>
<text x="38.30" y="127.28" font-size="4.8" text-anchor="end" font-style="italic" fill="#333" class="sm">FBXW7</text>
<text x="38.30" y="132.40" font-size="4.8" text-anchor="end" font-style="italic" fill="#333" class="sm">EP300</text>
<text x="38.30" y="137.53" font-size="4.8" text-anchor="end" font-style="italic" fill="#333" class="sm">CDKN2A</text>
<text x="38.30" y="142.65" font-size="4.8" text-anchor="end" font-style="italic" fill="#333" class="sm">AKT1</text>
<text x="38.30" y="147.78" font-size="4.8" text-anchor="end" font-style="italic" fill="#333" class="sm">CDKN1A</text>
<text x="11.30" y="97.80" font-size="5.4" text-anchor="middle" fill="#333" transform="rotate(-90 11.3 97.8)" class="sm">SNVs/indels</text>
<rect x="47.09" y="154.60" width="5.59" height="4.65" fill="#5f9fd4"/>
<rect x="52.68" y="154.60" width="5.59" height="4.65" fill="#c4d9ef"/>
<rect x="58.27" y="154.60" width="5.59" height="4.65" fill="#4690cb"/>
<rect x="69.44" y="154.60" width="5.59" height="4.65" fill="#8ab4dc"/>
<rect x="80.62" y="154.60" width="5.59" height="4.65" fill="#c4d8ee"/>
<rect x="247.57" y="154.60" width="5.64" height="4.65" fill="#a8c6e6"/>
<rect x="41.50" y="159.25" width="5.59" height="4.65" fill="#dc2830"/>
<rect x="52.68" y="159.25" width="5.59" height="4.65" fill="#f0b4b4"/>
<rect x="208.86" y="159.25" width="5.49" height="4.65" fill="#d82030"/>
<rect x="41.50" y="163.90" width="5.59" height="4.65" fill="#d4e8f4"/>
<rect x="41.50" y="154.60" width="297.80" height="13.95" fill="none" stroke="#6d6d6d" stroke-width="0.9"/>
<rect x="344.10" y="154.60" width="175.51" height="13.95" fill="none" stroke="#6d6d6d" stroke-width="0.9"/>
<text x="38.30" y="158.30" font-size="4.8" text-anchor="end" font-style="italic" fill="#333" class="sm">Chr9p21</text>
<text x="38.30" y="162.95" font-size="4.8" text-anchor="end" font-style="italic" fill="#333" class="sm">ERBB2</text>
<text x="38.30" y="167.60" font-size="4.8" text-anchor="end" font-style="italic" fill="#333" class="sm">RB1</text>
<text x="10.90" y="161.80" font-size="5.4" text-anchor="middle" fill="#333" transform="rotate(-90 10.9 161.8)" class="sm">CNVs</text>
<rect x="41.50" y="173.90" width="6.20" height="5.45" fill="#f0955a" stroke="#555" stroke-width="0.5"/>
<text x="49.10" y="178.20" font-size="4.95" fill="#333" class="sm">High grade</text>
<rect x="41.50" y="179.35" width="6.20" height="5.45" fill="#1fa2dc" stroke="#555" stroke-width="0.5"/>
<text x="49.10" y="183.65" font-size="4.95" fill="#333" class="sm">Low grade</text>
<rect x="41.50" y="184.80" width="6.20" height="5.45" fill="#ffffff" stroke="#555" stroke-width="0.5"/>
<text x="49.10" y="189.10" font-size="4.95" fill="#333" class="sm">Not available</text>
<rect x="84.40" y="173.90" width="6.20" height="5.45" fill="#a2bfe2" stroke="#555" stroke-width="0.5"/>
<text x="92.00" y="178.20" font-size="4.95" fill="#333" class="sm">Cytology negative</text>
<rect x="84.40" y="179.35" width="6.20" height="5.45" fill="#1c82c2" stroke="#555" stroke-width="0.5"/>
<text x="92.00" y="183.65" font-size="4.95" fill="#333" class="sm">Cytology positive</text>
<rect x="84.40" y="184.80" width="6.20" height="5.45" fill="#ffffff" stroke="#555" stroke-width="0.5"/>
<text x="92.00" y="189.10" font-size="4.95" fill="#333" class="sm">Not available</text>
<rect x="143.00" y="173.90" width="6.20" height="5.45" fill="#1f4f9c" stroke="#555" stroke-width="0.5"/>
<text x="150.60" y="178.20" font-size="4.95" fill="#333" class="sm">ctDNA positive</text>
<rect x="143.00" y="179.35" width="6.20" height="5.45" fill="#ffffff" stroke="#555" stroke-width="0.5"/>
<text x="150.60" y="183.65" font-size="4.95" fill="#333" class="sm">ctDNA negative</text>
<text x="194.60" y="176.40" font-size="5.4" fill="#333" class="sm">Mutant allele fraction</text>
<rect x="194.70" y="180.10" width="16.38" height="5.90" fill="#8dc163" stroke="#333" stroke-width="0.6"/>
<text x="203.39" y="192.90" font-size="5.6" text-anchor="middle" fill="#333" class="sm">0.5%</text>
<rect x="211.08" y="180.10" width="16.38" height="5.90" fill="#bdd84f" stroke="#333" stroke-width="0.6"/>
<text x="219.77" y="192.90" font-size="5.6" text-anchor="middle" fill="#333" class="sm">2.5%</text>
<rect x="227.46" y="180.10" width="16.38" height="5.90" fill="#dfe83a" stroke="#333" stroke-width="0.6"/>
<text x="236.15" y="192.90" font-size="5.6" text-anchor="middle" fill="#333" class="sm">5%</text>
<rect x="243.84" y="180.10" width="16.38" height="5.90" fill="#f7e91f" stroke="#333" stroke-width="0.6"/>
<text x="252.53" y="192.90" font-size="5.6" text-anchor="middle" fill="#333" class="sm">10%</text>
<rect x="260.22" y="180.10" width="16.38" height="5.90" fill="#f6d21f" stroke="#333" stroke-width="0.6"/>
<text x="268.91" y="192.90" font-size="5.6" text-anchor="middle" fill="#333" class="sm">20%</text>
<rect x="276.60" y="180.10" width="16.38" height="5.90" fill="#f1b431" stroke="#333" stroke-width="0.6"/>
<text x="285.29" y="192.90" font-size="5.6" text-anchor="middle" fill="#333" class="sm">30%</text>
<rect x="292.98" y="180.10" width="16.38" height="5.90" fill="#ec9b3b" stroke="#333" stroke-width="0.6"/>
<text x="301.67" y="192.90" font-size="5.6" text-anchor="middle" fill="#333" class="sm">40%</text>
<rect x="309.36" y="180.10" width="16.38" height="5.90" fill="#e06f2e" stroke="#333" stroke-width="0.6"/>
<text x="318.05" y="192.90" font-size="5.6" text-anchor="middle" fill="#333" class="sm">60%</text>
<rect x="325.74" y="180.10" width="16.38" height="5.90" fill="#c63030" stroke="#333" stroke-width="0.6"/>
<text x="334.43" y="192.90" font-size="5.6" text-anchor="middle" fill="#333" class="sm">80%</text>
<text x="359.50" y="176.40" font-size="5.4" fill="#333" class="sm">Copy number</text>
<rect x="358.00" y="180.30" width="16.37" height="5.60" fill="#1f78c0" stroke="#666" stroke-width="0.5"/>
<text x="366.19" y="193.00" font-size="5.4" text-anchor="middle" fill="#333" class="sm">0.25</text>
<rect x="374.37" y="180.30" width="16.37" height="5.60" fill="#5a9fd8" stroke="#666" stroke-width="0.5"/>
<text x="382.56" y="193.00" font-size="5.4" text-anchor="middle" fill="#333" class="sm">0.5</text>
<rect x="390.74" y="180.30" width="16.37" height="5.60" fill="#dce8f4" stroke="#666" stroke-width="0.5"/>
<text x="398.93" y="193.00" font-size="5.4" text-anchor="middle" fill="#333" class="sm">1.5</text>
<rect x="407.11" y="180.30" width="16.37" height="5.60" fill="#f8dcdc" stroke="#666" stroke-width="0.5"/>
<text x="415.30" y="193.00" font-size="5.4" text-anchor="middle" fill="#333" class="sm">3</text>
<rect x="423.48" y="180.30" width="16.37" height="5.60" fill="#ec8a8c" stroke="#666" stroke-width="0.5"/>
<text x="431.67" y="193.00" font-size="5.4" text-anchor="middle" fill="#333" class="sm">8</text>
<rect x="439.85" y="180.30" width="16.37" height="5.60" fill="#dc2828" stroke="#666" stroke-width="0.5"/>
<text x="448.04" y="193.00" font-size="5.4" text-anchor="middle" fill="#333" class="sm">32</text>
<line x1="407.11" y1="180.30" x2="407.11" y2="185.90" stroke="#222" stroke-width="0.8"/>
<text x="1.20" y="226.20" font-size="10.2" font-weight="bold" fill="#111">B</text>
<line x1="32.30" y1="238.50" x2="32.30" y2="346.20" stroke="#58595b" stroke-width="0.8"/>
<line x1="32.30" y1="345.80" x2="182.80" y2="345.80" stroke="#58595b" stroke-width="0.8"/>
<line x1="30.00" y1="345.80" x2="32.30" y2="345.80" stroke="#58595b" stroke-width="0.8"/>
<text x="27.40" y="348.40" font-size="7.2" text-anchor="end" fill="#333">0</text>
<line x1="32.70" y1="345.80" x2="32.70" y2="348.00" stroke="#58595b" stroke-width="0.8"/>
<text x="32.70" y="356.40" font-size="7.2" text-anchor="middle" fill="#333">0</text>
<line x1="30.00" y1="335.10" x2="32.30" y2="335.10" stroke="#58595b" stroke-width="0.8"/>
<text x="27.40" y="337.70" font-size="7.2" text-anchor="end" fill="#333">10</text>
<line x1="47.68" y1="345.80" x2="47.68" y2="348.00" stroke="#58595b" stroke-width="0.8"/>
<text x="47.68" y="356.40" font-size="7.2" text-anchor="middle" fill="#333">10</text>
<line x1="30.00" y1="324.40" x2="32.30" y2="324.40" stroke="#58595b" stroke-width="0.8"/>
<text x="27.40" y="327.00" font-size="7.2" text-anchor="end" fill="#333">20</text>
<line x1="62.66" y1="345.80" x2="62.66" y2="348.00" stroke="#58595b" stroke-width="0.8"/>
<text x="62.66" y="356.40" font-size="7.2" text-anchor="middle" fill="#333">20</text>
<line x1="30.00" y1="313.70" x2="32.30" y2="313.70" stroke="#58595b" stroke-width="0.8"/>
<text x="27.40" y="316.30" font-size="7.2" text-anchor="end" fill="#333">30</text>
<line x1="77.64" y1="345.80" x2="77.64" y2="348.00" stroke="#58595b" stroke-width="0.8"/>
<text x="77.64" y="356.40" font-size="7.2" text-anchor="middle" fill="#333">30</text>
<line x1="30.00" y1="303.00" x2="32.30" y2="303.00" stroke="#58595b" stroke-width="0.8"/>
<text x="27.40" y="305.60" font-size="7.2" text-anchor="end" fill="#333">40</text>
<line x1="92.62" y1="345.80" x2="92.62" y2="348.00" stroke="#58595b" stroke-width="0.8"/>
<text x="92.62" y="356.40" font-size="7.2" text-anchor="middle" fill="#333">40</text>
<line x1="30.00" y1="292.30" x2="32.30" y2="292.30" stroke="#58595b" stroke-width="0.8"/>
<text x="27.40" y="294.90" font-size="7.2" text-anchor="end" fill="#333">50</text>
<line x1="107.60" y1="345.80" x2="107.60" y2="348.00" stroke="#58595b" stroke-width="0.8"/>
<text x="107.60" y="356.40" font-size="7.2" text-anchor="middle" fill="#333">50</text>
<line x1="30.00" y1="281.60" x2="32.30" y2="281.60" stroke="#58595b" stroke-width="0.8"/>
<text x="27.40" y="284.20" font-size="7.2" text-anchor="end" fill="#333">60</text>
<line x1="122.58" y1="345.80" x2="122.58" y2="348.00" stroke="#58595b" stroke-width="0.8"/>
<text x="122.58" y="356.40" font-size="7.2" text-anchor="middle" fill="#333">60</text>
<line x1="30.00" y1="270.90" x2="32.30" y2="270.90" stroke="#58595b" stroke-width="0.8"/>
<text x="27.40" y="273.50" font-size="7.2" text-anchor="end" fill="#333">70</text>
<line x1="137.56" y1="345.80" x2="137.56" y2="348.00" stroke="#58595b" stroke-width="0.8"/>
<text x="137.56" y="356.40" font-size="7.2" text-anchor="middle" fill="#333">70</text>
<line x1="30.00" y1="260.20" x2="32.30" y2="260.20" stroke="#58595b" stroke-width="0.8"/>
<text x="27.40" y="262.80" font-size="7.2" text-anchor="end" fill="#333">80</text>
<line x1="152.54" y1="345.80" x2="152.54" y2="348.00" stroke="#58595b" stroke-width="0.8"/>
<text x="152.54" y="356.40" font-size="7.2" text-anchor="middle" fill="#333">80</text>
<line x1="30.00" y1="249.50" x2="32.30" y2="249.50" stroke="#58595b" stroke-width="0.8"/>
<text x="27.40" y="252.10" font-size="7.2" text-anchor="end" fill="#333">90</text>
<line x1="167.52" y1="345.80" x2="167.52" y2="348.00" stroke="#58595b" stroke-width="0.8"/>
<text x="167.52" y="356.40" font-size="7.2" text-anchor="middle" fill="#333">90</text>
<line x1="30.00" y1="238.80" x2="32.30" y2="238.80" stroke="#58595b" stroke-width="0.8"/>
<text x="27.40" y="241.40" font-size="7.2" text-anchor="end" fill="#333">100</text>
<line x1="182.50" y1="345.80" x2="182.50" y2="348.00" stroke="#58595b" stroke-width="0.8"/>
<text x="182.50" y="356.40" font-size="7.2" text-anchor="middle" fill="#333">100</text>
<text x="107.60" y="370.20" font-size="7.15" text-anchor="middle" fill="#333">100% – Specificity %</text>
<text x="8.40" y="292.20" font-size="7.15" text-anchor="middle" fill="#333" transform="rotate(-90 8.4 292.2)">Sensitivity (%)</text>
<path d="M182.50,238.80 L32.70,330.82" stroke="#2a9a6e" stroke-width="1.1" fill="none"/>
<path d="M32.70,312.63 L36.45,312.63 L36.45,256.99 L47.68,256.99 L182.50,238.80" stroke="#4b4b8f" stroke-width="1.1" fill="none"/>
<path d="M33.07,345.80 L33.07,250.57 L38.69,250.57 L38.69,247.36 L48.88,247.36 L48.88,243.08 L182.50,238.80" stroke="#de4a55" stroke-width="1.1" fill="none"/>
<text x="122.50" y="295.50" font-size="7.3" fill="#333">Detection method</text>
<line x1="122.50" y1="296.60" x2="180.80" y2="296.60" stroke="#333" stroke-width="0.6"/>
<text x="190.90" y="295.50" font-size="7.3" fill="#333">Sn</text>
<text x="207.30" y="295.50" font-size="7.3" fill="#333">Sp</text>
<text x="224.60" y="295.50" font-size="7.3" fill="#333">AUC</text>
<line x1="107.80" y1="303.90" x2="119.60" y2="303.90" stroke="#de4a55" stroke-width="0.85"/>
<text x="122.50" y="306.30" font-size="7.3" fill="#333">Tumor-informed</text>
<text x="190.90" y="306.30" font-size="7.3" fill="#333">93</text>
<text x="207.70" y="306.30" font-size="7.3" fill="#333">96</text>
<text x="224.60" y="306.30" font-size="7.3" fill="#333">0.97</text>
<line x1="107.80" y1="314.60" x2="119.60" y2="314.60" stroke="#4b4b8f" stroke-width="0.85"/>
<text x="122.50" y="317.00" font-size="7.3" fill="#333">Tumor-naïve</text>
<text x="190.90" y="317.00" font-size="7.3" fill="#333">83</text>
<text x="207.70" y="317.00" font-size="7.3" fill="#333">97</text>
<text x="224.60" y="317.00" font-size="7.3" fill="#333">0.89</text>
<line x1="107.80" y1="324.20" x2="119.60" y2="324.20" stroke="#2a9a6e" stroke-width="0.85"/>
<text x="122.50" y="326.60" font-size="7.3" fill="#333">Cytology</text>
<text x="190.90" y="326.60" font-size="7.3" fill="#333">14</text>
<text x="207.70" y="326.60" font-size="7.3" fill="#333">100</text>
<text x="224.60" y="326.60" font-size="7.3" fill="#333">0.57</text>
<text x="301.80" y="226.30" font-size="10.2" font-weight="bold" fill="#111">C</text>
<line x1="338.30" y1="238.20" x2="338.30" y2="346.40" stroke="#58595b" stroke-width="0.8"/>
<line x1="338.30" y1="346.40" x2="518.50" y2="346.40" stroke="#58595b" stroke-width="0.8"/>
<line x1="336.00" y1="346.40" x2="338.30" y2="346.40" stroke="#58595b" stroke-width="0.8"/>
<text x="334.20" y="349.00" font-size="7.2" text-anchor="end" fill="#333">0</text>
<line x1="336.00" y1="335.61" x2="338.30" y2="335.61" stroke="#58595b" stroke-width="0.8"/>
<text x="334.20" y="338.21" font-size="7.2" text-anchor="end" fill="#333">10</text>
<line x1="336.00" y1="324.82" x2="338.30" y2="324.82" stroke="#58595b" stroke-width="0.8"/>
<text x="334.20" y="327.42" font-size="7.2" text-anchor="end" fill="#333">20</text>
<line x1="336.00" y1="314.03" x2="338.30" y2="314.03" stroke="#58595b" stroke-width="0.8"/>
<text x="334.20" y="316.63" font-size="7.2" text-anchor="end" fill="#333">30</text>
<line x1="336.00" y1="303.24" x2="338.30" y2="303.24" stroke="#58595b" stroke-width="0.8"/>
<text x="334.20" y="305.84" font-size="7.2" text-anchor="end" fill="#333">40</text>
<line x1="336.00" y1="292.45" x2="338.30" y2="292.45" stroke="#58595b" stroke-width="0.8"/>
<text x="334.20" y="295.05" font-size="7.2" text-anchor="end" fill="#333">50</text>
<line x1="336.00" y1="281.66" x2="338.30" y2="281.66" stroke="#58595b" stroke-width="0.8"/>
<text x="334.20" y="284.26" font-size="7.2" text-anchor="end" fill="#333">60</text>
<line x1="336.00" y1="270.87" x2="338.30" y2="270.87" stroke="#58595b" stroke-width="0.8"/>
<text x="334.20" y="273.47" font-size="7.2" text-anchor="end" fill="#333">70</text>
<line x1="336.00" y1="260.08" x2="338.30" y2="260.08" stroke="#58595b" stroke-width="0.8"/>
<text x="334.20" y="262.68" font-size="7.2" text-anchor="end" fill="#333">80</text>
<line x1="336.00" y1="249.29" x2="338.30" y2="249.29" stroke="#58595b" stroke-width="0.8"/>
<text x="334.20" y="251.89" font-size="7.2" text-anchor="end" fill="#333">90</text>
<line x1="336.00" y1="238.50" x2="338.30" y2="238.50" stroke="#58595b" stroke-width="0.8"/>
<text x="334.20" y="241.10" font-size="7.2" text-anchor="end" fill="#333">100</text>
<text x="307.80" y="292.40" font-size="7.15" text-anchor="middle" fill="#333" transform="rotate(-90 307.8 292.4)">Sensitivity of tumor-naive</text>
<text x="316.10" y="293.40" font-size="7.15" text-anchor="middle" fill="#333" transform="rotate(-90 316.1 293.4)">detection by subcategory (%)</text>
<rect x="346.90" y="262.10" width="14.00" height="84.30" fill="#e3242b"/>
<line x1="353.90" y1="346.40" x2="353.90" y2="348.60" stroke="#58595b" stroke-width="0.8"/>
<rect x="368.60" y="238.10" width="14.00" height="108.30" fill="#e3242b"/>
<line x1="375.60" y1="346.40" x2="375.60" y2="348.60" stroke="#58595b" stroke-width="0.8"/>
<rect x="389.80" y="258.60" width="14.00" height="87.80" fill="#1b62a8"/>
<line x1="396.80" y1="346.40" x2="396.80" y2="348.60" stroke="#58595b" stroke-width="0.8"/>
<rect x="411.40" y="238.00" width="14.00" height="108.40" fill="#1b62a8"/>
<line x1="418.40" y1="346.40" x2="418.40" y2="348.60" stroke="#58595b" stroke-width="0.8"/>
<rect x="433.00" y="267.90" width="14.00" height="78.50" fill="#17a04c"/>
<line x1="440.00" y1="346.40" x2="440.00" y2="348.60" stroke="#58595b" stroke-width="0.8"/>
<rect x="454.20" y="242.40" width="14.00" height="104.00" fill="#17a04c"/>
<line x1="461.20" y1="346.40" x2="461.20" y2="348.60" stroke="#58595b" stroke-width="0.8"/>
<rect x="475.80" y="258.30" width="14.00" height="88.10" fill="#f3942d"/>
<line x1="482.80" y1="346.40" x2="482.80" y2="348.60" stroke="#58595b" stroke-width="0.8"/>
<rect x="497.30" y="253.40" width="14.00" height="93.00" fill="#f3942d"/>
<line x1="504.30" y1="346.40" x2="504.30" y2="348.60" stroke="#58595b" stroke-width="0.8"/>
<line x1="338.30" y1="255.80" x2="518.50" y2="255.80" stroke="#444" stroke-width="1.0" stroke-dasharray="1,1.6"/>
<text x="355.90" y="353.60" font-size="7.5" text-anchor="end" fill="#333" transform="rotate(-45 355.90 353.60)">pTa (<tspan font-style="italic">n</tspan> = 40)</text>
<text x="377.60" y="353.60" font-size="7.5" text-anchor="end" fill="#333" transform="rotate(-45 377.60 353.60)">pTis + pT1–4 (<tspan font-style="italic">n</tspan> = 14)</text>
<text x="398.80" y="353.60" font-size="7.5" text-anchor="end" fill="#333" transform="rotate(-45 398.80 353.60)">Papillary (<tspan font-style="italic">n</tspan> = 47)</text>
<text x="420.40" y="353.60" font-size="7.5" text-anchor="end" fill="#333" transform="rotate(-45 420.40 353.60)">Flat (<tspan font-style="italic">n</tspan> = 7)</text>
<text x="442.00" y="353.60" font-size="7.5" text-anchor="end" fill="#333" transform="rotate(-45 442.00 353.60)">Low grade (<tspan font-style="italic">n</tspan> = 29)</text>
<text x="463.20" y="353.60" font-size="7.5" text-anchor="end" fill="#333" transform="rotate(-45 463.20 353.60)">High grade (<tspan font-style="italic">n</tspan> = 25)</text>
<text x="484.80" y="353.60" font-size="7.5" text-anchor="end" fill="#333" transform="rotate(-45 484.80 353.60)">Cytology negative (<tspan font-style="italic">n</tspan> = 43)</text>
<text x="506.30" y="353.60" font-size="7.5" text-anchor="end" fill="#333" transform="rotate(-45 506.30 353.60)">Cytology positive (<tspan font-style="italic">n</tspan> = 7)</text>
<line x1="348.80" y1="230.40" x2="375.80" y2="230.40" stroke="#8a8a8a" stroke-width="1.2"/>
<text x="362.30" y="227.20" font-size="6.8" text-anchor="middle" fill="#333"><tspan font-style="italic">P</tspan> = 0.054</text>
<line x1="389.80" y1="230.40" x2="416.70" y2="230.40" stroke="#8a8a8a" stroke-width="1.2"/>
<text x="403.25" y="227.20" font-size="6.8" text-anchor="middle" fill="#333"><tspan font-style="italic">P</tspan> = ns</text>
<line x1="434.40" y1="230.40" x2="461.30" y2="230.40" stroke="#8a8a8a" stroke-width="1.2"/>
<text x="447.85" y="227.20" font-size="6.8" text-anchor="middle" fill="#333"><tspan font-style="italic">P</tspan> = 0.022</text>
<line x1="479.60" y1="230.40" x2="507.50" y2="230.40" stroke="#8a8a8a" stroke-width="1.2"/>
<text x="493.55" y="227.20" font-size="6.8" text-anchor="middle" fill="#333"><tspan font-style="italic">P</tspan> = ns</text>
<text x="1.00" y="425.60" font-size="10.2" font-weight="bold" fill="#111">D</text>
<line x1="42.40" y1="442.80" x2="42.40" y2="546.30" stroke="#58595b" stroke-width="0.8"/>
<line x1="42.40" y1="546.30" x2="308.50" y2="546.30" stroke="#58595b" stroke-width="0.8"/>
<line x1="41.00" y1="535.94" x2="42.40" y2="535.94" stroke="#58595b" stroke-width="0.6"/>
<line x1="41.00" y1="529.89" x2="42.40" y2="529.89" stroke="#58595b" stroke-width="0.6"/>
<line x1="41.00" y1="525.59" x2="42.40" y2="525.59" stroke="#58595b" stroke-width="0.6"/>
<line x1="41.00" y1="522.26" x2="42.40" y2="522.26" stroke="#58595b" stroke-width="0.6"/>
<line x1="41.00" y1="519.53" x2="42.40" y2="519.53" stroke="#58595b" stroke-width="0.6"/>
<line x1="41.00" y1="517.23" x2="42.40" y2="517.23" stroke="#58595b" stroke-width="0.6"/>
<line x1="41.00" y1="515.23" x2="42.40" y2="515.23" stroke="#58595b" stroke-width="0.6"/>
<line x1="41.00" y1="513.47" x2="42.40" y2="513.47" stroke="#58595b" stroke-width="0.6"/>
<line x1="41.00" y1="501.54" x2="42.40" y2="501.54" stroke="#58595b" stroke-width="0.6"/>
<line x1="41.00" y1="495.49" x2="42.40" y2="495.49" stroke="#58595b" stroke-width="0.6"/>
<line x1="41.00" y1="491.19" x2="42.40" y2="491.19" stroke="#58595b" stroke-width="0.6"/>
<line x1="41.00" y1="487.86" x2="42.40" y2="487.86" stroke="#58595b" stroke-width="0.6"/>
<line x1="41.00" y1="485.13" x2="42.40" y2="485.13" stroke="#58595b" stroke-width="0.6"/>
<line x1="41.00" y1="482.83" x2="42.40" y2="482.83" stroke="#58595b" stroke-width="0.6"/>
<line x1="41.00" y1="480.83" x2="42.40" y2="480.83" stroke="#58595b" stroke-width="0.6"/>
<line x1="41.00" y1="479.07" x2="42.40" y2="479.07" stroke="#58595b" stroke-width="0.6"/>
<line x1="41.00" y1="467.14" x2="42.40" y2="467.14" stroke="#58595b" stroke-width="0.6"/>
<line x1="41.00" y1="461.09" x2="42.40" y2="461.09" stroke="#58595b" stroke-width="0.6"/>
<line x1="41.00" y1="456.79" x2="42.40" y2="456.79" stroke="#58595b" stroke-width="0.6"/>
<line x1="41.00" y1="453.46" x2="42.40" y2="453.46" stroke="#58595b" stroke-width="0.6"/>
<line x1="41.00" y1="450.73" x2="42.40" y2="450.73" stroke="#58595b" stroke-width="0.6"/>
<line x1="41.00" y1="448.43" x2="42.40" y2="448.43" stroke="#58595b" stroke-width="0.6"/>
<line x1="41.00" y1="446.43" x2="42.40" y2="446.43" stroke="#58595b" stroke-width="0.6"/>
<line x1="41.00" y1="444.67" x2="42.40" y2="444.67" stroke="#58595b" stroke-width="0.6"/>
<line x1="40.00" y1="546.30" x2="42.40" y2="546.30" stroke="#58595b" stroke-width="0.8"/>
<text x="35.80" y="548.30" font-size="7.6" text-anchor="end" fill="#333">10</text>
<line x1="40.00" y1="511.90" x2="42.40" y2="511.90" stroke="#58595b" stroke-width="0.8"/>
<text x="35.80" y="513.90" font-size="7.6" text-anchor="end" fill="#333">100</text>
<line x1="40.00" y1="477.50" x2="42.40" y2="477.50" stroke="#58595b" stroke-width="0.8"/>
<text x="35.80" y="479.50" font-size="7.6" text-anchor="end" fill="#333">1,000</text>
<line x1="40.00" y1="443.10" x2="42.40" y2="443.10" stroke="#58595b" stroke-width="0.8"/>
<text x="35.80" y="445.10" font-size="7.6" text-anchor="end" fill="#333">10,000</text>
<text x="9.00" y="494.50" font-size="7.3" text-anchor="middle" fill="#333" transform="rotate(-90 9.0 494.5)">ctDNA (hGE/mL)</text>
<line x1="63.80" y1="546.30" x2="63.80" y2="548.70" stroke="#58595b" stroke-width="0.8"/>
<text x="66.40" y="554.20" font-size="7.5" text-anchor="end" fill="#333" transform="rotate(-45 66.40 554.20)">pTa</text>
<line x1="95.70" y1="546.30" x2="95.70" y2="548.70" stroke="#58595b" stroke-width="0.8"/>
<text x="98.30" y="554.20" font-size="7.5" text-anchor="end" fill="#333" transform="rotate(-45 98.30 554.20)">pTis + pT1-4</text>
<line x1="127.60" y1="546.30" x2="127.60" y2="548.70" stroke="#58595b" stroke-width="0.8"/>
<text x="130.20" y="554.20" font-size="7.5" text-anchor="end" fill="#333" transform="rotate(-45 130.20 554.20)">Papillary</text>
<line x1="159.50" y1="546.30" x2="159.50" y2="548.70" stroke="#58595b" stroke-width="0.8"/>
<text x="162.10" y="554.20" font-size="7.5" text-anchor="end" fill="#333" transform="rotate(-45 162.10 554.20)">Flat</text>
<line x1="191.40" y1="546.30" x2="191.40" y2="548.70" stroke="#58595b" stroke-width="0.8"/>
<text x="194.00" y="554.20" font-size="7.5" text-anchor="end" fill="#333" transform="rotate(-45 194.00 554.20)">Low grade</text>
<line x1="223.30" y1="546.30" x2="223.30" y2="548.70" stroke="#58595b" stroke-width="0.8"/>
<text x="225.90" y="554.20" font-size="7.5" text-anchor="end" fill="#333" transform="rotate(-45 225.90 554.20)">High grade</text>
<line x1="255.20" y1="546.30" x2="255.20" y2="548.70" stroke="#58595b" stroke-width="0.8"/>
<text x="257.80" y="554.20" font-size="7.5" text-anchor="end" fill="#333" transform="rotate(-45 257.80 554.20)">Cytology negative</text>
<line x1="287.10" y1="546.30" x2="287.10" y2="548.70" stroke="#58595b" stroke-width="0.8"/>
<text x="289.70" y="554.20" font-size="7.5" text-anchor="end" fill="#333" transform="rotate(-45 289.70 554.20)">Cytology positive</text>
<line x1="60.20" y1="430.10" x2="94.10" y2="430.10" stroke="#555" stroke-width="0.9"/>
<text x="77.15" y="426.40" font-size="6.9" text-anchor="middle" fill="#333"><tspan font-style="italic">P</tspan> = 0.0002</text>
<line x1="126.00" y1="430.10" x2="160.00" y2="430.10" stroke="#555" stroke-width="0.9"/>
<text x="143.00" y="426.40" font-size="6.9" text-anchor="middle" fill="#333"><tspan font-style="italic">P</tspan> = 0.0026</text>
<line x1="189.00" y1="430.10" x2="223.20" y2="430.10" stroke="#555" stroke-width="0.9"/>
<text x="206.10" y="426.40" font-size="6.9" text-anchor="middle" fill="#333"><tspan font-style="italic">P</tspan> = 0.0003</text>
<line x1="252.00" y1="430.10" x2="286.00" y2="430.10" stroke="#555" stroke-width="0.9"/>
<text x="269.00" y="426.40" font-size="6.9" text-anchor="middle" fill="#333"><tspan font-style="italic">P</tspan> = 0.0093</text>
<line x1="52.50" y1="523.00" x2="74.60" y2="523.00" stroke="#e38592" stroke-width="0.85"/>
<line x1="84.70" y1="466.20" x2="106.80" y2="466.20" stroke="#a0505e" stroke-width="0.85"/>
<line x1="117.50" y1="487.40" x2="138.20" y2="487.40" stroke="#62729a" stroke-width="0.85"/>
<line x1="148.90" y1="463.20" x2="170.40" y2="463.20" stroke="#56648a" stroke-width="0.85"/>
<line x1="181.10" y1="500.50" x2="201.80" y2="500.50" stroke="#6e9a82" stroke-width="0.85"/>
<line x1="212.90" y1="472.30" x2="234.00" y2="472.30" stroke="#5a7e6a" stroke-width="0.85"/>
<line x1="245.10" y1="495.80" x2="265.80" y2="495.80" stroke="#eea878" stroke-width="0.85"/>
<line x1="276.90" y1="453.80" x2="298.00" y2="453.80" stroke="#e09a70" stroke-width="0.85"/>
<circle cx="61.10" cy="460.20" r="1.6" fill="#be1f3a" stroke="#861a2e" stroke-width="0.5"/>
<circle cx="65.80" cy="459.60" r="1.6" fill="#be1f3a" stroke="#861a2e" stroke-width="0.5"/>
<circle cx="61.10" cy="474.70" r="1.6" fill="#be1f3a" stroke="#861a2e" stroke-width="0.5"/>
<circle cx="65.80" cy="477.70" r="1.6" fill="#be1f3a" stroke="#861a2e" stroke-width="0.5"/>
<circle cx="63.60" cy="486.00" r="1.6" fill="#be1f3a" stroke="#861a2e" stroke-width="0.5"/>
<circle cx="56.70" cy="491.40" r="1.6" fill="#be1f3a" stroke="#861a2e" stroke-width="0.5"/>
<circle cx="61.10" cy="493.00" r="1.6" fill="#be1f3a" stroke="#861a2e" stroke-width="0.5"/>
<circle cx="65.80" cy="495.00" r="1.6" fill="#be1f3a" stroke="#861a2e" stroke-width="0.5"/>
<circle cx="70.60" cy="493.00" r="1.6" fill="#be1f3a" stroke="#861a2e" stroke-width="0.5"/>
<circle cx="63.60" cy="500.00" r="1.6" fill="#be1f3a" stroke="#861a2e" stroke-width="0.5"/>
<circle cx="56.70" cy="503.50" r="1.6" fill="#be1f3a" stroke="#861a2e" stroke-width="0.5"/>
<circle cx="68.20" cy="503.50" r="1.6" fill="#be1f3a" stroke="#861a2e" stroke-width="0.5"/>
<circle cx="59.10" cy="508.10" r="1.6" fill="#be1f3a" stroke="#861a2e" stroke-width="0.5"/>
<circle cx="63.60" cy="506.10" r="1.6" fill="#be1f3a" stroke="#861a2e" stroke-width="0.5"/>
<circle cx="68.20" cy="510.50" r="1.6" fill="#be1f3a" stroke="#861a2e" stroke-width="0.5"/>
<circle cx="63.60" cy="512.10" r="1.6" fill="#be1f3a" stroke="#861a2e" stroke-width="0.5"/>
<circle cx="56.70" cy="517.20" r="1.6" fill="#be1f3a" stroke="#861a2e" stroke-width="0.5"/>
<circle cx="61.30" cy="519.00" r="1.6" fill="#be1f3a" stroke="#861a2e" stroke-width="0.5"/>
<circle cx="66.20" cy="519.40" r="1.6" fill="#be1f3a" stroke="#861a2e" stroke-width="0.5"/>
<circle cx="70.60" cy="518.60" r="1.6" fill="#be1f3a" stroke="#861a2e" stroke-width="0.5"/>
<circle cx="65.80" cy="527.00" r="1.6" fill="#be1f3a" stroke="#861a2e" stroke-width="0.5"/>
<circle cx="61.30" cy="529.70" r="1.6" fill="#be1f3a" stroke="#861a2e" stroke-width="0.5"/>
<circle cx="55.30" cy="532.10" r="1.6" fill="#be1f3a" stroke="#861a2e" stroke-width="0.5"/>
<circle cx="59.50" cy="534.10" r="1.6" fill="#be1f3a" stroke="#861a2e" stroke-width="0.5"/>
<circle cx="63.60" cy="535.10" r="1.6" fill="#be1f3a" stroke="#861a2e" stroke-width="0.5"/>
<circle cx="67.80" cy="533.10" r="1.6" fill="#be1f3a" stroke="#861a2e" stroke-width="0.5"/>
<circle cx="71.80" cy="530.70" r="1.6" fill="#be1f3a" stroke="#861a2e" stroke-width="0.5"/>
<circle cx="58.70" cy="537.10" r="1.6" fill="#be1f3a" stroke="#861a2e" stroke-width="0.5"/>
<circle cx="68.20" cy="537.70" r="1.6" fill="#be1f3a" stroke="#861a2e" stroke-width="0.5"/>
<circle cx="63.60" cy="541.10" r="1.6" fill="#be1f3a" stroke="#861a2e" stroke-width="0.5"/>
<circle cx="95.80" cy="444.70" r="1.6" fill="#be1f3a" stroke="#861a2e" stroke-width="0.5"/>
<circle cx="90.90" cy="450.50" r="1.6" fill="#be1f3a" stroke="#861a2e" stroke-width="0.5"/>
<circle cx="95.80" cy="453.80" r="1.6" fill="#be1f3a" stroke="#861a2e" stroke-width="0.5"/>
<circle cx="100.40" cy="453.20" r="1.6" fill="#be1f3a" stroke="#861a2e" stroke-width="0.5"/>
<circle cx="95.80" cy="463.20" r="1.6" fill="#be1f3a" stroke="#861a2e" stroke-width="0.5"/>
<circle cx="95.80" cy="486.40" r="1.6" fill="#be1f3a" stroke="#861a2e" stroke-width="0.5"/>
<circle cx="93.40" cy="490.00" r="1.6" fill="#be1f3a" stroke="#861a2e" stroke-width="0.5"/>
<circle cx="98.00" cy="491.00" r="1.6" fill="#be1f3a" stroke="#861a2e" stroke-width="0.5"/>
<circle cx="90.90" cy="499.50" r="1.6" fill="#be1f3a" stroke="#861a2e" stroke-width="0.5"/>
<circle cx="95.80" cy="502.90" r="1.6" fill="#be1f3a" stroke="#861a2e" stroke-width="0.5"/>
<circle cx="100.40" cy="501.90" r="1.6" fill="#be1f3a" stroke="#861a2e" stroke-width="0.5"/>
<circle cx="93.40" cy="516.60" r="1.6" fill="#be1f3a" stroke="#861a2e" stroke-width="0.5"/>
<circle cx="98.00" cy="517.60" r="1.6" fill="#be1f3a" stroke="#861a2e" stroke-width="0.5"/>
<circle cx="95.80" cy="532.10" r="1.6" fill="#be1f3a" stroke="#861a2e" stroke-width="0.5"/>
<circle cx="125.10" cy="450.10" r="1.6" fill="#1b3662" stroke="#10223f" stroke-width="0.5"/>
<circle cx="130.00" cy="453.80" r="1.6" fill="#1b3662" stroke="#10223f" stroke-width="0.5"/>
<circle cx="125.10" cy="460.20" r="1.6" fill="#1b3662" stroke="#10223f" stroke-width="0.5"/>
<circle cx="130.00" cy="459.40" r="1.6" fill="#1b3662" stroke="#10223f" stroke-width="0.5"/>
<circle cx="125.10" cy="474.90" r="1.6" fill="#1b3662" stroke="#10223f" stroke-width="0.5"/>
<circle cx="130.00" cy="477.70" r="1.6" fill="#1b3662" stroke="#10223f" stroke-width="0.5"/>
<circle cx="130.00" cy="486.00" r="1.6" fill="#1b3662" stroke="#10223f" stroke-width="0.5"/>
<circle cx="119.10" cy="491.00" r="1.6" fill="#1b3662" stroke="#10223f" stroke-width="0.5"/>
<circle cx="123.10" cy="493.00" r="1.6" fill="#1b3662" stroke="#10223f" stroke-width="0.5"/>
<circle cx="125.10" cy="490.40" r="1.6" fill="#1b3662" stroke="#10223f" stroke-width="0.5"/>
<circle cx="127.50" cy="495.00" r="1.6" fill="#1b3662" stroke="#10223f" stroke-width="0.5"/>
<circle cx="131.80" cy="493.00" r="1.6" fill="#1b3662" stroke="#10223f" stroke-width="0.5"/>
<circle cx="136.20" cy="491.00" r="1.6" fill="#1b3662" stroke="#10223f" stroke-width="0.5"/>
<circle cx="127.50" cy="500.10" r="1.6" fill="#1b3662" stroke="#10223f" stroke-width="0.5"/>
<circle cx="120.70" cy="503.90" r="1.6" fill="#1b3662" stroke="#10223f" stroke-width="0.5"/>
<circle cx="132.20" cy="503.30" r="1.6" fill="#1b3662" stroke="#10223f" stroke-width="0.5"/>
<circle cx="123.10" cy="508.10" r="1.6" fill="#1b3662" stroke="#10223f" stroke-width="0.5"/>
<circle cx="127.50" cy="506.50" r="1.6" fill="#1b3662" stroke="#10223f" stroke-width="0.5"/>
<circle cx="132.20" cy="510.50" r="1.6" fill="#1b3662" stroke="#10223f" stroke-width="0.5"/>
<circle cx="127.50" cy="512.10" r="1.6" fill="#1b3662" stroke="#10223f" stroke-width="0.5"/>
<circle cx="118.70" cy="516.60" r="1.6" fill="#1b3662" stroke="#10223f" stroke-width="0.5"/>
<circle cx="122.70" cy="518.00" r="1.6" fill="#1b3662" stroke="#10223f" stroke-width="0.5"/>
<circle cx="126.10" cy="519.20" r="1.6" fill="#1b3662" stroke="#10223f" stroke-width="0.5"/>
<circle cx="129.60" cy="519.80" r="1.6" fill="#1b3662" stroke="#10223f" stroke-width="0.5"/>
<circle cx="132.80" cy="518.60" r="1.6" fill="#1b3662" stroke="#10223f" stroke-width="0.5"/>
<circle cx="136.40" cy="517.20" r="1.6" fill="#1b3662" stroke="#10223f" stroke-width="0.5"/>
<circle cx="130.00" cy="527.00" r="1.6" fill="#1b3662" stroke="#10223f" stroke-width="0.5"/>
<circle cx="125.10" cy="529.70" r="1.6" fill="#1b3662" stroke="#10223f" stroke-width="0.5"/>
<circle cx="118.70" cy="531.10" r="1.6" fill="#1b3662" stroke="#10223f" stroke-width="0.5"/>
<circle cx="122.70" cy="533.10" r="1.6" fill="#1b3662" stroke="#10223f" stroke-width="0.5"/>
<circle cx="126.70" cy="534.30" r="1.6" fill="#1b3662" stroke="#10223f" stroke-width="0.5"/>
<circle cx="130.00" cy="535.10" r="1.6" fill="#1b3662" stroke="#10223f" stroke-width="0.5"/>
<circle cx="133.60" cy="533.10" r="1.6" fill="#1b3662" stroke="#10223f" stroke-width="0.5"/>
<circle cx="136.60" cy="532.10" r="1.6" fill="#1b3662" stroke="#10223f" stroke-width="0.5"/>
<circle cx="122.70" cy="537.10" r="1.6" fill="#1b3662" stroke="#10223f" stroke-width="0.5"/>
<circle cx="132.20" cy="537.10" r="1.6" fill="#1b3662" stroke="#10223f" stroke-width="0.5"/>
<circle cx="127.50" cy="541.10" r="1.6" fill="#1b3662" stroke="#10223f" stroke-width="0.5"/>
<circle cx="159.40" cy="444.70" r="1.6" fill="#1b3662" stroke="#10223f" stroke-width="0.5"/>
<circle cx="159.40" cy="453.20" r="1.6" fill="#1b3662" stroke="#10223f" stroke-width="0.5"/>
<circle cx="159.40" cy="463.20" r="1.6" fill="#1b3662" stroke="#10223f" stroke-width="0.5"/>
<circle cx="159.40" cy="486.40" r="1.6" fill="#1b3662" stroke="#10223f" stroke-width="0.5"/>
<circle cx="154.90" cy="499.10" r="1.6" fill="#1b3662" stroke="#10223f" stroke-width="0.5"/>
<circle cx="159.40" cy="502.90" r="1.6" fill="#1b3662" stroke="#10223f" stroke-width="0.5"/>
<circle cx="164.00" cy="501.50" r="1.6" fill="#1b3662" stroke="#10223f" stroke-width="0.5"/>
<circle cx="191.30" cy="459.60" r="1.6" fill="#13844a" stroke="#0c5a32" stroke-width="0.5"/>
<circle cx="191.30" cy="486.00" r="1.6" fill="#13844a" stroke="#0c5a32" stroke-width="0.5"/>
<circle cx="184.50" cy="491.40" r="1.6" fill="#13844a" stroke="#0c5a32" stroke-width="0.5"/>
<circle cx="189.10" cy="493.00" r="1.6" fill="#13844a" stroke="#0c5a32" stroke-width="0.5"/>
<circle cx="193.80" cy="493.00" r="1.6" fill="#13844a" stroke="#0c5a32" stroke-width="0.5"/>
<circle cx="198.60" cy="491.00" r="1.6" fill="#13844a" stroke="#0c5a32" stroke-width="0.5"/>
<circle cx="186.70" cy="507.50" r="1.6" fill="#13844a" stroke="#0c5a32" stroke-width="0.5"/>
<circle cx="191.30" cy="506.10" r="1.6" fill="#13844a" stroke="#0c5a32" stroke-width="0.5"/>
<circle cx="196.20" cy="510.50" r="1.6" fill="#13844a" stroke="#0c5a32" stroke-width="0.5"/>
<circle cx="191.30" cy="512.50" r="1.6" fill="#13844a" stroke="#0c5a32" stroke-width="0.5"/>
<circle cx="189.10" cy="519.20" r="1.6" fill="#13844a" stroke="#0c5a32" stroke-width="0.5"/>
<circle cx="193.80" cy="519.60" r="1.6" fill="#13844a" stroke="#0c5a32" stroke-width="0.5"/>
<circle cx="193.80" cy="526.60" r="1.6" fill="#13844a" stroke="#0c5a32" stroke-width="0.5"/>
<circle cx="189.10" cy="529.30" r="1.6" fill="#13844a" stroke="#0c5a32" stroke-width="0.5"/>
<circle cx="184.50" cy="531.10" r="1.6" fill="#13844a" stroke="#0c5a32" stroke-width="0.5"/>
<circle cx="189.10" cy="534.10" r="1.6" fill="#13844a" stroke="#0c5a32" stroke-width="0.5"/>
<circle cx="196.20" cy="533.10" r="1.6" fill="#13844a" stroke="#0c5a32" stroke-width="0.5"/>
<circle cx="196.20" cy="535.10" r="1.6" fill="#13844a" stroke="#0c5a32" stroke-width="0.5"/>
<circle cx="193.80" cy="537.10" r="1.6" fill="#13844a" stroke="#0c5a32" stroke-width="0.5"/>
<circle cx="189.10" cy="541.10" r="1.6" fill="#13844a" stroke="#0c5a32" stroke-width="0.5"/>
<circle cx="223.40" cy="444.70" r="1.6" fill="#13844a" stroke="#0c5a32" stroke-width="0.5"/>
<circle cx="218.70" cy="450.50" r="1.6" fill="#13844a" stroke="#0c5a32" stroke-width="0.5"/>
<circle cx="223.40" cy="453.80" r="1.6" fill="#13844a" stroke="#0c5a32" stroke-width="0.5"/>
<circle cx="228.40" cy="453.20" r="1.6" fill="#13844a" stroke="#0c5a32" stroke-width="0.5"/>
<circle cx="220.90" cy="460.20" r="1.6" fill="#13844a" stroke="#0c5a32" stroke-width="0.5"/>
<circle cx="225.80" cy="463.20" r="1.6" fill="#13844a" stroke="#0c5a32" stroke-width="0.5"/>
<circle cx="225.80" cy="475.30" r="1.6" fill="#13844a" stroke="#0c5a32" stroke-width="0.5"/>
<circle cx="220.90" cy="477.70" r="1.6" fill="#13844a" stroke="#0c5a32" stroke-width="0.5"/>
<circle cx="220.90" cy="486.40" r="1.6" fill="#13844a" stroke="#0c5a32" stroke-width="0.5"/>
<circle cx="225.80" cy="490.00" r="1.6" fill="#13844a" stroke="#0c5a32" stroke-width="0.5"/>
<circle cx="223.40" cy="495.40" r="1.6" fill="#13844a" stroke="#0c5a32" stroke-width="0.5"/>
<circle cx="214.30" cy="499.10" r="1.6" fill="#13844a" stroke="#0c5a32" stroke-width="0.5"/>
<circle cx="217.90" cy="501.50" r="1.6" fill="#13844a" stroke="#0c5a32" stroke-width="0.5"/>
<circle cx="221.30" cy="502.90" r="1.6" fill="#13844a" stroke="#0c5a32" stroke-width="0.5"/>
<circle cx="224.80" cy="503.50" r="1.6" fill="#13844a" stroke="#0c5a32" stroke-width="0.5"/>
<circle cx="228.80" cy="502.90" r="1.6" fill="#13844a" stroke="#0c5a32" stroke-width="0.5"/>
<circle cx="232.40" cy="500.10" r="1.6" fill="#13844a" stroke="#0c5a32" stroke-width="0.5"/>
<circle cx="216.30" cy="517.20" r="1.6" fill="#13844a" stroke="#0c5a32" stroke-width="0.5"/>
<circle cx="220.90" cy="518.60" r="1.6" fill="#13844a" stroke="#0c5a32" stroke-width="0.5"/>
<circle cx="225.80" cy="517.60" r="1.6" fill="#13844a" stroke="#0c5a32" stroke-width="0.5"/>
<circle cx="230.40" cy="516.60" r="1.6" fill="#13844a" stroke="#0c5a32" stroke-width="0.5"/>
<circle cx="220.90" cy="532.10" r="1.6" fill="#13844a" stroke="#0c5a32" stroke-width="0.5"/>
<circle cx="225.80" cy="532.10" r="1.6" fill="#13844a" stroke="#0c5a32" stroke-width="0.5"/>
<circle cx="223.40" cy="537.30" r="1.6" fill="#13844a" stroke="#0c5a32" stroke-width="0.5"/>
<circle cx="257.80" cy="459.60" r="1.6" fill="#b8703a" stroke="#e0802e" stroke-width="0.5"/>
<circle cx="253.10" cy="463.20" r="1.6" fill="#b8703a" stroke="#e0802e" stroke-width="0.5"/>
<circle cx="253.10" cy="474.90" r="1.6" fill="#b8703a" stroke="#e0802e" stroke-width="0.5"/>
<circle cx="257.80" cy="477.70" r="1.6" fill="#b8703a" stroke="#e0802e" stroke-width="0.5"/>
<circle cx="253.10" cy="486.40" r="1.6" fill="#b8703a" stroke="#e0802e" stroke-width="0.5"/>
<circle cx="257.80" cy="486.00" r="1.6" fill="#b8703a" stroke="#e0802e" stroke-width="0.5"/>
<circle cx="248.50" cy="491.40" r="1.6" fill="#b8703a" stroke="#e0802e" stroke-width="0.5"/>
<circle cx="253.10" cy="493.40" r="1.6" fill="#b8703a" stroke="#e0802e" stroke-width="0.5"/>
<circle cx="257.80" cy="493.00" r="1.6" fill="#b8703a" stroke="#e0802e" stroke-width="0.5"/>
<circle cx="260.20" cy="495.00" r="1.6" fill="#b8703a" stroke="#e0802e" stroke-width="0.5"/>
<circle cx="248.50" cy="501.50" r="1.6" fill="#b8703a" stroke="#e0802e" stroke-width="0.5"/>
<circle cx="250.70" cy="500.10" r="1.6" fill="#b8703a" stroke="#e0802e" stroke-width="0.5"/>
<circle cx="257.80" cy="499.50" r="1.6" fill="#b8703a" stroke="#e0802e" stroke-width="0.5"/>
<circle cx="253.10" cy="504.10" r="1.6" fill="#b8703a" stroke="#e0802e" stroke-width="0.5"/>
<circle cx="262.60" cy="503.50" r="1.6" fill="#b8703a" stroke="#e0802e" stroke-width="0.5"/>
<circle cx="257.80" cy="506.50" r="1.6" fill="#b8703a" stroke="#e0802e" stroke-width="0.5"/>
<circle cx="250.70" cy="508.10" r="1.6" fill="#b8703a" stroke="#e0802e" stroke-width="0.5"/>
<circle cx="260.20" cy="510.50" r="1.6" fill="#b8703a" stroke="#e0802e" stroke-width="0.5"/>
<circle cx="255.30" cy="512.10" r="1.6" fill="#b8703a" stroke="#e0802e" stroke-width="0.5"/>
<circle cx="248.50" cy="516.60" r="1.6" fill="#b8703a" stroke="#e0802e" stroke-width="0.5"/>
<circle cx="253.10" cy="517.60" r="1.6" fill="#b8703a" stroke="#e0802e" stroke-width="0.5"/>
<circle cx="257.80" cy="518.60" r="1.6" fill="#b8703a" stroke="#e0802e" stroke-width="0.5"/>
<circle cx="262.60" cy="517.20" r="1.6" fill="#b8703a" stroke="#e0802e" stroke-width="0.5"/>
<circle cx="257.80" cy="526.60" r="1.6" fill="#b8703a" stroke="#e0802e" stroke-width="0.5"/>
<circle cx="253.10" cy="529.30" r="1.6" fill="#b8703a" stroke="#e0802e" stroke-width="0.5"/>
<circle cx="246.50" cy="530.70" r="1.6" fill="#b8703a" stroke="#e0802e" stroke-width="0.5"/>
<circle cx="250.10" cy="532.10" r="1.6" fill="#b8703a" stroke="#e0802e" stroke-width="0.5"/>
<circle cx="253.70" cy="534.10" r="1.6" fill="#b8703a" stroke="#e0802e" stroke-width="0.5"/>
<circle cx="257.20" cy="535.10" r="1.6" fill="#b8703a" stroke="#e0802e" stroke-width="0.5"/>
<circle cx="260.80" cy="533.10" r="1.6" fill="#b8703a" stroke="#e0802e" stroke-width="0.5"/>
<circle cx="264.20" cy="532.10" r="1.6" fill="#b8703a" stroke="#e0802e" stroke-width="0.5"/>
<circle cx="257.80" cy="537.10" r="1.6" fill="#b8703a" stroke="#e0802e" stroke-width="0.5"/>
<circle cx="253.10" cy="541.10" r="1.6" fill="#b8703a" stroke="#e0802e" stroke-width="0.5"/>
<circle cx="287.40" cy="444.70" r="1.6" fill="#b8703a" stroke="#e0802e" stroke-width="0.5"/>
<circle cx="292.40" cy="450.50" r="1.6" fill="#b8703a" stroke="#e0802e" stroke-width="0.5"/>
<circle cx="282.70" cy="453.20" r="1.6" fill="#b8703a" stroke="#e0802e" stroke-width="0.5"/>
<circle cx="287.40" cy="453.80" r="1.6" fill="#b8703a" stroke="#e0802e" stroke-width="0.5"/>
<circle cx="287.40" cy="490.00" r="1.6" fill="#b8703a" stroke="#e0802e" stroke-width="0.5"/>
<circle cx="287.40" cy="519.60" r="1.6" fill="#b8703a" stroke="#e0802e" stroke-width="0.5"/>
<circle cx="287.40" cy="537.30" r="1.6" fill="#b8703a" stroke="#e0802e" stroke-width="0.5"/>
</svg>
</body></html>
